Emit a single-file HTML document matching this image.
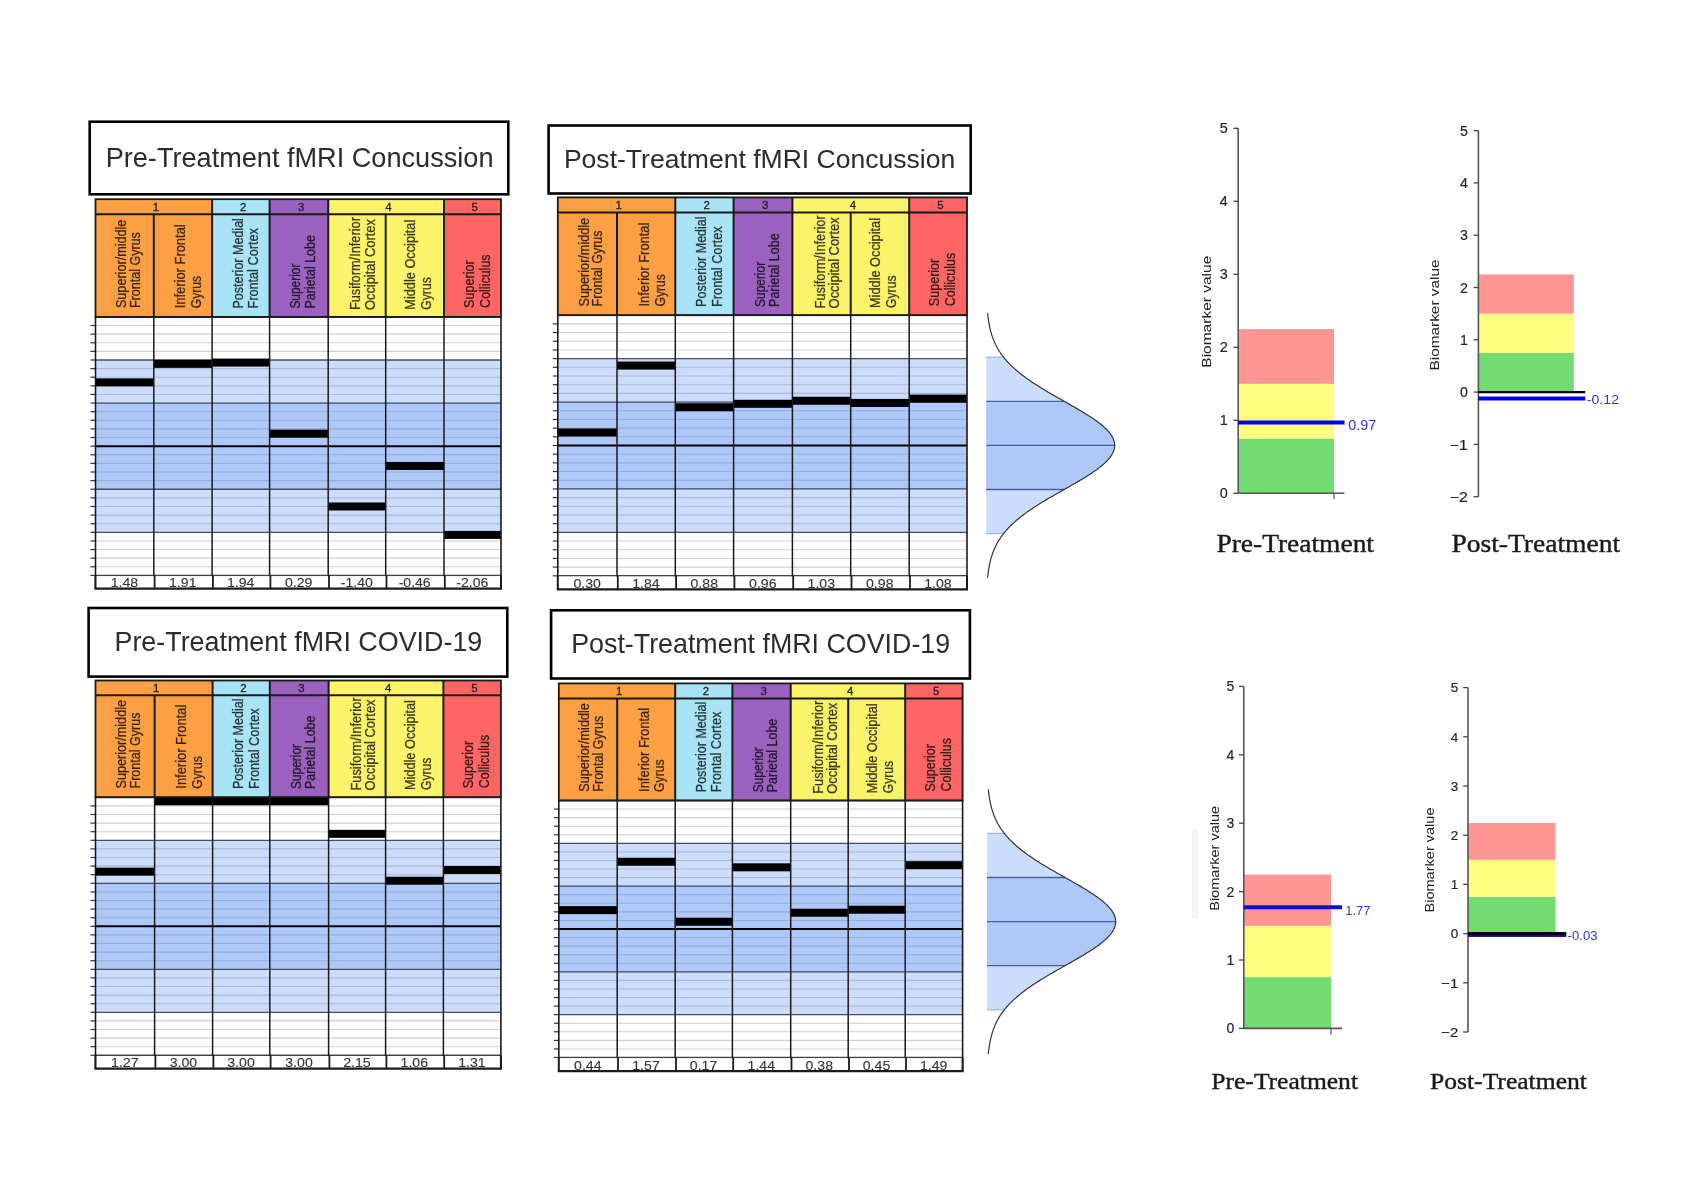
<!DOCTYPE html>
<html><head><meta charset="utf-8"><title>fMRI biomarker figure</title>
<style>
html,body{margin:0;padding:0;background:#fff;}
body{width:1699px;height:1200px;overflow:hidden;font-family:"Liberation Sans",sans-serif;}
svg{display:block;will-change:transform;}
</style></head>
<body>
<svg width="1699" height="1200" viewBox="0 0 1699 1200">
<rect x="0" y="0" width="1699" height="1200" fill="#fff"/>
<rect x="89.70" y="121.70" width="418.60" height="72.60" fill="#fff" stroke="#000" stroke-width="2.6"/>
<text x="105.65" y="166.90" font-family='"Liberation Sans", sans-serif' font-size="27.9" fill="#2c2c2c" textLength="387.85" lengthAdjust="spacingAndGlyphs">Pre-Treatment fMRI Concussion</text>
<rect x="95.50" y="199.20" width="116.60" height="117.70" fill="#fda043"/>
<rect x="212.10" y="199.20" width="57.50" height="117.70" fill="#a9e4f6"/>
<rect x="269.60" y="199.20" width="58.60" height="117.70" fill="#9b61be"/>
<rect x="328.20" y="199.20" width="115.80" height="117.70" fill="#fbf46b"/>
<rect x="444.00" y="199.20" width="57.00" height="117.70" fill="#fe6565"/>
<rect x="95.50" y="316.90" width="405.50" height="43.38" fill="#ffffff"/>
<rect x="95.50" y="359.98" width="405.50" height="43.38" fill="#ccddfc"/>
<rect x="95.50" y="403.07" width="405.50" height="43.38" fill="#aec8fa"/>
<rect x="95.50" y="446.15" width="405.50" height="43.38" fill="#aec8fa"/>
<rect x="95.50" y="489.23" width="405.50" height="43.38" fill="#ccddfc"/>
<rect x="95.50" y="532.32" width="405.50" height="43.38" fill="#ffffff"/>
<line x1="95.50" x2="501.00" y1="325.52" y2="325.52" stroke="#7a7f8a" stroke-opacity="0.38" stroke-width="1.1"/>
<line x1="95.50" x2="501.00" y1="334.13" y2="334.13" stroke="#7a7f8a" stroke-opacity="0.38" stroke-width="1.1"/>
<line x1="95.50" x2="501.00" y1="342.75" y2="342.75" stroke="#7a7f8a" stroke-opacity="0.38" stroke-width="1.1"/>
<line x1="95.50" x2="501.00" y1="351.37" y2="351.37" stroke="#7a7f8a" stroke-opacity="0.38" stroke-width="1.1"/>
<line x1="95.50" x2="501.00" y1="368.60" y2="368.60" stroke="#7a7f8a" stroke-opacity="0.38" stroke-width="1.1"/>
<line x1="95.50" x2="501.00" y1="377.22" y2="377.22" stroke="#7a7f8a" stroke-opacity="0.38" stroke-width="1.1"/>
<line x1="95.50" x2="501.00" y1="385.83" y2="385.83" stroke="#7a7f8a" stroke-opacity="0.38" stroke-width="1.1"/>
<line x1="95.50" x2="501.00" y1="394.45" y2="394.45" stroke="#7a7f8a" stroke-opacity="0.38" stroke-width="1.1"/>
<line x1="95.50" x2="501.00" y1="411.68" y2="411.68" stroke="#7a7f8a" stroke-opacity="0.38" stroke-width="1.1"/>
<line x1="95.50" x2="501.00" y1="420.30" y2="420.30" stroke="#7a7f8a" stroke-opacity="0.38" stroke-width="1.1"/>
<line x1="95.50" x2="501.00" y1="428.92" y2="428.92" stroke="#7a7f8a" stroke-opacity="0.38" stroke-width="1.1"/>
<line x1="95.50" x2="501.00" y1="437.53" y2="437.53" stroke="#7a7f8a" stroke-opacity="0.38" stroke-width="1.1"/>
<line x1="95.50" x2="501.00" y1="454.77" y2="454.77" stroke="#7a7f8a" stroke-opacity="0.38" stroke-width="1.1"/>
<line x1="95.50" x2="501.00" y1="463.38" y2="463.38" stroke="#7a7f8a" stroke-opacity="0.38" stroke-width="1.1"/>
<line x1="95.50" x2="501.00" y1="472.00" y2="472.00" stroke="#7a7f8a" stroke-opacity="0.38" stroke-width="1.1"/>
<line x1="95.50" x2="501.00" y1="480.62" y2="480.62" stroke="#7a7f8a" stroke-opacity="0.38" stroke-width="1.1"/>
<line x1="95.50" x2="501.00" y1="497.85" y2="497.85" stroke="#7a7f8a" stroke-opacity="0.38" stroke-width="1.1"/>
<line x1="95.50" x2="501.00" y1="506.47" y2="506.47" stroke="#7a7f8a" stroke-opacity="0.38" stroke-width="1.1"/>
<line x1="95.50" x2="501.00" y1="515.08" y2="515.08" stroke="#7a7f8a" stroke-opacity="0.38" stroke-width="1.1"/>
<line x1="95.50" x2="501.00" y1="523.70" y2="523.70" stroke="#7a7f8a" stroke-opacity="0.38" stroke-width="1.1"/>
<line x1="95.50" x2="501.00" y1="540.93" y2="540.93" stroke="#7a7f8a" stroke-opacity="0.38" stroke-width="1.1"/>
<line x1="95.50" x2="501.00" y1="549.55" y2="549.55" stroke="#7a7f8a" stroke-opacity="0.38" stroke-width="1.1"/>
<line x1="95.50" x2="501.00" y1="558.17" y2="558.17" stroke="#7a7f8a" stroke-opacity="0.38" stroke-width="1.1"/>
<line x1="95.50" x2="501.00" y1="566.78" y2="566.78" stroke="#7a7f8a" stroke-opacity="0.38" stroke-width="1.1"/>
<line x1="95.50" x2="501.00" y1="359.98" y2="359.98" stroke="#2b3245" stroke-opacity="0.85" stroke-width="1.3"/>
<line x1="95.50" x2="501.00" y1="403.07" y2="403.07" stroke="#2b3245" stroke-opacity="0.85" stroke-width="1.3"/>
<line x1="95.50" x2="501.00" y1="489.23" y2="489.23" stroke="#2b3245" stroke-opacity="0.85" stroke-width="1.3"/>
<line x1="95.50" x2="501.00" y1="532.32" y2="532.32" stroke="#2b3245" stroke-opacity="0.85" stroke-width="1.3"/>
<line x1="95.50" x2="501.00" y1="446.15" y2="446.15" stroke="#000" stroke-width="2"/>
<line x1="95.50" x2="501.00" y1="575.40" y2="575.40" stroke="#444" stroke-width="1.5"/>
<line x1="90.50" x2="95.50" y1="325.52" y2="325.52" stroke="#333" stroke-width="1.2"/>
<line x1="90.50" x2="95.50" y1="334.13" y2="334.13" stroke="#333" stroke-width="1.2"/>
<line x1="90.50" x2="95.50" y1="342.75" y2="342.75" stroke="#333" stroke-width="1.2"/>
<line x1="90.50" x2="95.50" y1="351.37" y2="351.37" stroke="#333" stroke-width="1.2"/>
<line x1="90.50" x2="95.50" y1="359.98" y2="359.98" stroke="#333" stroke-width="1.2"/>
<line x1="90.50" x2="95.50" y1="368.60" y2="368.60" stroke="#333" stroke-width="1.2"/>
<line x1="90.50" x2="95.50" y1="377.22" y2="377.22" stroke="#333" stroke-width="1.2"/>
<line x1="90.50" x2="95.50" y1="385.83" y2="385.83" stroke="#333" stroke-width="1.2"/>
<line x1="90.50" x2="95.50" y1="394.45" y2="394.45" stroke="#333" stroke-width="1.2"/>
<line x1="90.50" x2="95.50" y1="403.07" y2="403.07" stroke="#333" stroke-width="1.2"/>
<line x1="90.50" x2="95.50" y1="411.68" y2="411.68" stroke="#333" stroke-width="1.2"/>
<line x1="90.50" x2="95.50" y1="420.30" y2="420.30" stroke="#333" stroke-width="1.2"/>
<line x1="90.50" x2="95.50" y1="428.92" y2="428.92" stroke="#333" stroke-width="1.2"/>
<line x1="90.50" x2="95.50" y1="437.53" y2="437.53" stroke="#333" stroke-width="1.2"/>
<line x1="90.50" x2="95.50" y1="446.15" y2="446.15" stroke="#333" stroke-width="1.2"/>
<line x1="90.50" x2="95.50" y1="454.77" y2="454.77" stroke="#333" stroke-width="1.2"/>
<line x1="90.50" x2="95.50" y1="463.38" y2="463.38" stroke="#333" stroke-width="1.2"/>
<line x1="90.50" x2="95.50" y1="472.00" y2="472.00" stroke="#333" stroke-width="1.2"/>
<line x1="90.50" x2="95.50" y1="480.62" y2="480.62" stroke="#333" stroke-width="1.2"/>
<line x1="90.50" x2="95.50" y1="489.23" y2="489.23" stroke="#333" stroke-width="1.2"/>
<line x1="90.50" x2="95.50" y1="497.85" y2="497.85" stroke="#333" stroke-width="1.2"/>
<line x1="90.50" x2="95.50" y1="506.47" y2="506.47" stroke="#333" stroke-width="1.2"/>
<line x1="90.50" x2="95.50" y1="515.08" y2="515.08" stroke="#333" stroke-width="1.2"/>
<line x1="90.50" x2="95.50" y1="523.70" y2="523.70" stroke="#333" stroke-width="1.2"/>
<line x1="90.50" x2="95.50" y1="532.32" y2="532.32" stroke="#333" stroke-width="1.2"/>
<line x1="90.50" x2="95.50" y1="540.93" y2="540.93" stroke="#333" stroke-width="1.2"/>
<line x1="90.50" x2="95.50" y1="549.55" y2="549.55" stroke="#333" stroke-width="1.2"/>
<line x1="90.50" x2="95.50" y1="558.17" y2="558.17" stroke="#333" stroke-width="1.2"/>
<line x1="90.50" x2="95.50" y1="566.78" y2="566.78" stroke="#333" stroke-width="1.2"/>
<line x1="90.50" x2="95.50" y1="575.40" y2="575.40" stroke="#333" stroke-width="1.2"/>
<rect x="95.50" y="378.39" width="58.30" height="8.00" fill="#000"/>
<rect x="153.80" y="359.86" width="58.30" height="8.00" fill="#000"/>
<rect x="212.10" y="358.57" width="57.50" height="8.00" fill="#000"/>
<rect x="269.60" y="429.66" width="58.60" height="8.00" fill="#000"/>
<rect x="328.20" y="502.47" width="57.50" height="8.00" fill="#000"/>
<rect x="385.70" y="461.97" width="58.30" height="8.00" fill="#000"/>
<rect x="444.00" y="530.90" width="57.00" height="8.00" fill="#000"/>
<line x1="153.80" x2="153.80" y1="316.90" y2="588.60" stroke="#1a1a1a" stroke-width="1.5"/>
<line x1="212.10" x2="212.10" y1="316.90" y2="588.60" stroke="#1a1a1a" stroke-width="1.5"/>
<line x1="269.60" x2="269.60" y1="316.90" y2="588.60" stroke="#1a1a1a" stroke-width="1.5"/>
<line x1="328.20" x2="328.20" y1="316.90" y2="588.60" stroke="#1a1a1a" stroke-width="1.5"/>
<line x1="385.70" x2="385.70" y1="316.90" y2="588.60" stroke="#1a1a1a" stroke-width="1.5"/>
<line x1="444.00" x2="444.00" y1="316.90" y2="588.60" stroke="#1a1a1a" stroke-width="1.5"/>
<line x1="95.50" x2="501.00" y1="214.30" y2="214.30" stroke="#1a1a1a" stroke-width="2"/>
<line x1="95.50" x2="501.00" y1="316.90" y2="316.90" stroke="#1a1a1a" stroke-width="1.6"/>
<line x1="153.80" x2="153.80" y1="214.30" y2="316.90" stroke="#1a1a1a" stroke-width="2"/>
<line x1="385.70" x2="385.70" y1="214.30" y2="316.90" stroke="#1a1a1a" stroke-width="2"/>
<line x1="212.10" x2="212.10" y1="199.20" y2="316.90" stroke="#1a1a1a" stroke-width="2"/>
<line x1="269.60" x2="269.60" y1="199.20" y2="316.90" stroke="#1a1a1a" stroke-width="2"/>
<line x1="328.20" x2="328.20" y1="199.20" y2="316.90" stroke="#1a1a1a" stroke-width="2"/>
<line x1="444.00" x2="444.00" y1="199.20" y2="316.90" stroke="#1a1a1a" stroke-width="2"/>
<rect x="95.50" y="199.20" width="405.50" height="117.70" fill="none" stroke="#1a1a1a" stroke-width="1.8"/>
<line x1="95.50" x2="95.50" y1="316.90" y2="588.60" stroke="#1a1a1a" stroke-width="1.6"/>
<line x1="501.00" x2="501.00" y1="316.90" y2="588.60" stroke="#1a1a1a" stroke-width="1.6"/>
<rect x="95.50" y="576.20" width="405.50" height="12.40" fill="#fff"/>
<line x1="154.60" x2="154.60" y1="575.40" y2="588.60" stroke="#1a1a1a" stroke-width="1.8"/>
<line x1="212.90" x2="212.90" y1="575.40" y2="588.60" stroke="#1a1a1a" stroke-width="1.8"/>
<line x1="270.40" x2="270.40" y1="575.40" y2="588.60" stroke="#1a1a1a" stroke-width="1.8"/>
<line x1="329.00" x2="329.00" y1="575.40" y2="588.60" stroke="#1a1a1a" stroke-width="1.8"/>
<line x1="386.50" x2="386.50" y1="575.40" y2="588.60" stroke="#1a1a1a" stroke-width="1.8"/>
<line x1="444.80" x2="444.80" y1="575.40" y2="588.60" stroke="#1a1a1a" stroke-width="1.8"/>
<line x1="95.50" x2="95.50" y1="575.40" y2="588.60" stroke="#1a1a1a" stroke-width="2"/>
<line x1="501.00" x2="501.00" y1="575.40" y2="588.60" stroke="#1a1a1a" stroke-width="2"/>
<text x="110.70" y="587.00" font-family='"Liberation Sans", sans-serif' font-size="12.2" fill="#333" stroke="#333" stroke-width="0.1" textLength="27.50" lengthAdjust="spacingAndGlyphs">1.48</text>
<text x="169.00" y="587.00" font-family='"Liberation Sans", sans-serif' font-size="12.2" fill="#333" stroke="#333" stroke-width="0.1" textLength="27.50" lengthAdjust="spacingAndGlyphs">1.91</text>
<text x="226.90" y="587.00" font-family='"Liberation Sans", sans-serif' font-size="12.2" fill="#333" stroke="#333" stroke-width="0.1" textLength="27.50" lengthAdjust="spacingAndGlyphs">1.94</text>
<text x="284.95" y="587.00" font-family='"Liberation Sans", sans-serif' font-size="12.2" fill="#333" stroke="#333" stroke-width="0.1" textLength="27.50" lengthAdjust="spacingAndGlyphs">0.29</text>
<text x="340.80" y="587.00" font-family='"Liberation Sans", sans-serif' font-size="12.2" fill="#333" stroke="#333" stroke-width="0.1" textLength="31.90" lengthAdjust="spacingAndGlyphs">-1.40</text>
<text x="398.70" y="587.00" font-family='"Liberation Sans", sans-serif' font-size="12.2" fill="#333" stroke="#333" stroke-width="0.1" textLength="31.90" lengthAdjust="spacingAndGlyphs">-0.46</text>
<text x="456.35" y="587.00" font-family='"Liberation Sans", sans-serif' font-size="12.2" fill="#333" stroke="#333" stroke-width="0.1" textLength="31.90" lengthAdjust="spacingAndGlyphs">-2.06</text>
<line x1="94.50" x2="502.00" y1="588.60" y2="588.60" stroke="#1a1a1a" stroke-width="2.2"/>
<text x="156.00" y="210.70" font-family='"Liberation Sans", sans-serif' font-size="11.4" fill="#222" stroke="#222" stroke-width="0.3" text-anchor="middle">1</text>
<text x="243.05" y="210.70" font-family='"Liberation Sans", sans-serif' font-size="11.4" fill="#222" stroke="#222" stroke-width="0.3" text-anchor="middle">2</text>
<text x="301.10" y="210.70" font-family='"Liberation Sans", sans-serif' font-size="11.4" fill="#222" stroke="#222" stroke-width="0.3" text-anchor="middle">3</text>
<text x="388.30" y="210.70" font-family='"Liberation Sans", sans-serif' font-size="11.4" fill="#222" stroke="#222" stroke-width="0.3" text-anchor="middle">4</text>
<text x="474.70" y="210.70" font-family='"Liberation Sans", sans-serif' font-size="11.4" fill="#222" stroke="#222" stroke-width="0.3" text-anchor="middle">5</text>
<text transform="translate(126.06,308.10) rotate(-90)" x="0" y="0" font-family='"Liberation Sans", sans-serif' font-size="14.0" fill="#000" fill-opacity="0.74" stroke="#000" stroke-opacity="0.6" stroke-width="0.35" textLength="88.50" lengthAdjust="spacingAndGlyphs">Superior/middle</text>
<text transform="translate(139.65,308.10) rotate(-90)" x="0" y="0" font-family='"Liberation Sans", sans-serif' font-size="14.0" fill="#000" fill-opacity="0.74" stroke="#000" stroke-opacity="0.6" stroke-width="0.35" textLength="76.00" lengthAdjust="spacingAndGlyphs">Frontal Gyrus</text>
<text transform="translate(185.36,308.30) rotate(-90)" x="0" y="0" font-family='"Liberation Sans", sans-serif' font-size="14.0" fill="#000" fill-opacity="0.74" stroke="#000" stroke-opacity="0.6" stroke-width="0.35" textLength="84.00" lengthAdjust="spacingAndGlyphs">Inferior Frontal</text>
<text transform="translate(201.14,308.30) rotate(-90)" x="0" y="0" font-family='"Liberation Sans", sans-serif' font-size="14.0" fill="#000" fill-opacity="0.74" stroke="#000" stroke-opacity="0.6" stroke-width="0.35" textLength="32.50" lengthAdjust="spacingAndGlyphs">Gyrus</text>
<text transform="translate(242.76,308.60) rotate(-90)" x="0" y="0" font-family='"Liberation Sans", sans-serif' font-size="14.0" fill="#000" fill-opacity="0.74" stroke="#000" stroke-opacity="0.6" stroke-width="0.35" textLength="90.50" lengthAdjust="spacingAndGlyphs">Posterior Medial</text>
<text transform="translate(258.44,308.60) rotate(-90)" x="0" y="0" font-family='"Liberation Sans", sans-serif' font-size="14.0" fill="#000" fill-opacity="0.74" stroke="#000" stroke-opacity="0.6" stroke-width="0.35" textLength="80.50" lengthAdjust="spacingAndGlyphs">Frontal Cortex</text>
<text transform="translate(300.36,308.60) rotate(-90)" x="0" y="0" font-family='"Liberation Sans", sans-serif' font-size="14.0" fill="#000" fill-opacity="0.74" stroke="#000" stroke-opacity="0.6" stroke-width="0.35" textLength="45.00" lengthAdjust="spacingAndGlyphs">Superior</text>
<text transform="translate(314.74,308.60) rotate(-90)" x="0" y="0" font-family='"Liberation Sans", sans-serif' font-size="14.0" fill="#000" fill-opacity="0.74" stroke="#000" stroke-opacity="0.6" stroke-width="0.35" textLength="73.50" lengthAdjust="spacingAndGlyphs">Parietal Lobe</text>
<text transform="translate(360.16,310.10) rotate(-90)" x="0" y="0" font-family='"Liberation Sans", sans-serif' font-size="14.0" fill="#000" fill-opacity="0.74" stroke="#000" stroke-opacity="0.6" stroke-width="0.35" textLength="93.00" lengthAdjust="spacingAndGlyphs">Fusiform/Inferior</text>
<text transform="translate(374.64,310.10) rotate(-90)" x="0" y="0" font-family='"Liberation Sans", sans-serif' font-size="14.0" fill="#000" fill-opacity="0.74" stroke="#000" stroke-opacity="0.6" stroke-width="0.35" textLength="91.00" lengthAdjust="spacingAndGlyphs">Occipital Cortex</text>
<text transform="translate(414.86,309.70) rotate(-90)" x="0" y="0" font-family='"Liberation Sans", sans-serif' font-size="14.0" fill="#000" fill-opacity="0.74" stroke="#000" stroke-opacity="0.6" stroke-width="0.35" textLength="90.00" lengthAdjust="spacingAndGlyphs">Middle Occipital</text>
<text transform="translate(431.04,309.70) rotate(-90)" x="0" y="0" font-family='"Liberation Sans", sans-serif' font-size="14.0" fill="#000" fill-opacity="0.74" stroke="#000" stroke-opacity="0.6" stroke-width="0.35" textLength="32.50" lengthAdjust="spacingAndGlyphs">Gyrus</text>
<text transform="translate(473.76,307.90) rotate(-90)" x="0" y="0" font-family='"Liberation Sans", sans-serif' font-size="14.0" fill="#000" fill-opacity="0.74" stroke="#000" stroke-opacity="0.6" stroke-width="0.35" textLength="47.50" lengthAdjust="spacingAndGlyphs">Superior</text>
<text transform="translate(489.54,307.90) rotate(-90)" x="0" y="0" font-family='"Liberation Sans", sans-serif' font-size="14.0" fill="#000" fill-opacity="0.74" stroke="#000" stroke-opacity="0.6" stroke-width="0.35" textLength="53.50" lengthAdjust="spacingAndGlyphs">Colliculus</text>
<rect x="548.60" y="125.50" width="422.10" height="68.00" fill="#fff" stroke="#000" stroke-width="2.6"/>
<text x="563.90" y="168.00" font-family='"Liberation Sans", sans-serif' font-size="26.2" fill="#2c2c2c" textLength="391.40" lengthAdjust="spacingAndGlyphs">Post-Treatment fMRI Concussion</text>
<rect x="557.80" y="197.40" width="117.50" height="117.80" fill="#fda043"/>
<rect x="675.30" y="197.40" width="58.30" height="117.80" fill="#a9e4f6"/>
<rect x="733.60" y="197.40" width="58.80" height="117.80" fill="#9b61be"/>
<rect x="792.40" y="197.40" width="116.80" height="117.80" fill="#fbf46b"/>
<rect x="909.20" y="197.40" width="57.80" height="117.80" fill="#fe6565"/>
<rect x="557.80" y="315.20" width="409.20" height="43.73" fill="#ffffff"/>
<rect x="557.80" y="358.63" width="409.20" height="43.73" fill="#ccddfc"/>
<rect x="557.80" y="402.07" width="409.20" height="43.73" fill="#aec8fa"/>
<rect x="557.80" y="445.50" width="409.20" height="43.73" fill="#aec8fa"/>
<rect x="557.80" y="488.93" width="409.20" height="43.73" fill="#ccddfc"/>
<rect x="557.80" y="532.37" width="409.20" height="43.73" fill="#ffffff"/>
<line x1="557.80" x2="967.00" y1="323.89" y2="323.89" stroke="#7a7f8a" stroke-opacity="0.38" stroke-width="1.1"/>
<line x1="557.80" x2="967.00" y1="332.57" y2="332.57" stroke="#7a7f8a" stroke-opacity="0.38" stroke-width="1.1"/>
<line x1="557.80" x2="967.00" y1="341.26" y2="341.26" stroke="#7a7f8a" stroke-opacity="0.38" stroke-width="1.1"/>
<line x1="557.80" x2="967.00" y1="349.95" y2="349.95" stroke="#7a7f8a" stroke-opacity="0.38" stroke-width="1.1"/>
<line x1="557.80" x2="967.00" y1="367.32" y2="367.32" stroke="#7a7f8a" stroke-opacity="0.38" stroke-width="1.1"/>
<line x1="557.80" x2="967.00" y1="376.01" y2="376.01" stroke="#7a7f8a" stroke-opacity="0.38" stroke-width="1.1"/>
<line x1="557.80" x2="967.00" y1="384.69" y2="384.69" stroke="#7a7f8a" stroke-opacity="0.38" stroke-width="1.1"/>
<line x1="557.80" x2="967.00" y1="393.38" y2="393.38" stroke="#7a7f8a" stroke-opacity="0.38" stroke-width="1.1"/>
<line x1="557.80" x2="967.00" y1="410.75" y2="410.75" stroke="#7a7f8a" stroke-opacity="0.38" stroke-width="1.1"/>
<line x1="557.80" x2="967.00" y1="419.44" y2="419.44" stroke="#7a7f8a" stroke-opacity="0.38" stroke-width="1.1"/>
<line x1="557.80" x2="967.00" y1="428.13" y2="428.13" stroke="#7a7f8a" stroke-opacity="0.38" stroke-width="1.1"/>
<line x1="557.80" x2="967.00" y1="436.81" y2="436.81" stroke="#7a7f8a" stroke-opacity="0.38" stroke-width="1.1"/>
<line x1="557.80" x2="967.00" y1="454.19" y2="454.19" stroke="#7a7f8a" stroke-opacity="0.38" stroke-width="1.1"/>
<line x1="557.80" x2="967.00" y1="462.87" y2="462.87" stroke="#7a7f8a" stroke-opacity="0.38" stroke-width="1.1"/>
<line x1="557.80" x2="967.00" y1="471.56" y2="471.56" stroke="#7a7f8a" stroke-opacity="0.38" stroke-width="1.1"/>
<line x1="557.80" x2="967.00" y1="480.25" y2="480.25" stroke="#7a7f8a" stroke-opacity="0.38" stroke-width="1.1"/>
<line x1="557.80" x2="967.00" y1="497.62" y2="497.62" stroke="#7a7f8a" stroke-opacity="0.38" stroke-width="1.1"/>
<line x1="557.80" x2="967.00" y1="506.31" y2="506.31" stroke="#7a7f8a" stroke-opacity="0.38" stroke-width="1.1"/>
<line x1="557.80" x2="967.00" y1="514.99" y2="514.99" stroke="#7a7f8a" stroke-opacity="0.38" stroke-width="1.1"/>
<line x1="557.80" x2="967.00" y1="523.68" y2="523.68" stroke="#7a7f8a" stroke-opacity="0.38" stroke-width="1.1"/>
<line x1="557.80" x2="967.00" y1="541.05" y2="541.05" stroke="#7a7f8a" stroke-opacity="0.38" stroke-width="1.1"/>
<line x1="557.80" x2="967.00" y1="549.74" y2="549.74" stroke="#7a7f8a" stroke-opacity="0.38" stroke-width="1.1"/>
<line x1="557.80" x2="967.00" y1="558.43" y2="558.43" stroke="#7a7f8a" stroke-opacity="0.38" stroke-width="1.1"/>
<line x1="557.80" x2="967.00" y1="567.11" y2="567.11" stroke="#7a7f8a" stroke-opacity="0.38" stroke-width="1.1"/>
<line x1="557.80" x2="967.00" y1="358.63" y2="358.63" stroke="#2b3245" stroke-opacity="0.85" stroke-width="1.3"/>
<line x1="557.80" x2="967.00" y1="402.07" y2="402.07" stroke="#2b3245" stroke-opacity="0.85" stroke-width="1.3"/>
<line x1="557.80" x2="967.00" y1="488.93" y2="488.93" stroke="#2b3245" stroke-opacity="0.85" stroke-width="1.3"/>
<line x1="557.80" x2="967.00" y1="532.37" y2="532.37" stroke="#2b3245" stroke-opacity="0.85" stroke-width="1.3"/>
<line x1="557.80" x2="967.00" y1="445.50" y2="445.50" stroke="#000" stroke-width="2"/>
<line x1="557.80" x2="967.00" y1="575.80" y2="575.80" stroke="#444" stroke-width="1.5"/>
<line x1="552.80" x2="557.80" y1="323.89" y2="323.89" stroke="#333" stroke-width="1.2"/>
<line x1="552.80" x2="557.80" y1="332.57" y2="332.57" stroke="#333" stroke-width="1.2"/>
<line x1="552.80" x2="557.80" y1="341.26" y2="341.26" stroke="#333" stroke-width="1.2"/>
<line x1="552.80" x2="557.80" y1="349.95" y2="349.95" stroke="#333" stroke-width="1.2"/>
<line x1="552.80" x2="557.80" y1="358.63" y2="358.63" stroke="#333" stroke-width="1.2"/>
<line x1="552.80" x2="557.80" y1="367.32" y2="367.32" stroke="#333" stroke-width="1.2"/>
<line x1="552.80" x2="557.80" y1="376.01" y2="376.01" stroke="#333" stroke-width="1.2"/>
<line x1="552.80" x2="557.80" y1="384.69" y2="384.69" stroke="#333" stroke-width="1.2"/>
<line x1="552.80" x2="557.80" y1="393.38" y2="393.38" stroke="#333" stroke-width="1.2"/>
<line x1="552.80" x2="557.80" y1="402.07" y2="402.07" stroke="#333" stroke-width="1.2"/>
<line x1="552.80" x2="557.80" y1="410.75" y2="410.75" stroke="#333" stroke-width="1.2"/>
<line x1="552.80" x2="557.80" y1="419.44" y2="419.44" stroke="#333" stroke-width="1.2"/>
<line x1="552.80" x2="557.80" y1="428.13" y2="428.13" stroke="#333" stroke-width="1.2"/>
<line x1="552.80" x2="557.80" y1="436.81" y2="436.81" stroke="#333" stroke-width="1.2"/>
<line x1="552.80" x2="557.80" y1="445.50" y2="445.50" stroke="#333" stroke-width="1.2"/>
<line x1="552.80" x2="557.80" y1="454.19" y2="454.19" stroke="#333" stroke-width="1.2"/>
<line x1="552.80" x2="557.80" y1="462.87" y2="462.87" stroke="#333" stroke-width="1.2"/>
<line x1="552.80" x2="557.80" y1="471.56" y2="471.56" stroke="#333" stroke-width="1.2"/>
<line x1="552.80" x2="557.80" y1="480.25" y2="480.25" stroke="#333" stroke-width="1.2"/>
<line x1="552.80" x2="557.80" y1="488.93" y2="488.93" stroke="#333" stroke-width="1.2"/>
<line x1="552.80" x2="557.80" y1="497.62" y2="497.62" stroke="#333" stroke-width="1.2"/>
<line x1="552.80" x2="557.80" y1="506.31" y2="506.31" stroke="#333" stroke-width="1.2"/>
<line x1="552.80" x2="557.80" y1="514.99" y2="514.99" stroke="#333" stroke-width="1.2"/>
<line x1="552.80" x2="557.80" y1="523.68" y2="523.68" stroke="#333" stroke-width="1.2"/>
<line x1="552.80" x2="557.80" y1="532.37" y2="532.37" stroke="#333" stroke-width="1.2"/>
<line x1="552.80" x2="557.80" y1="541.05" y2="541.05" stroke="#333" stroke-width="1.2"/>
<line x1="552.80" x2="557.80" y1="549.74" y2="549.74" stroke="#333" stroke-width="1.2"/>
<line x1="552.80" x2="557.80" y1="558.43" y2="558.43" stroke="#333" stroke-width="1.2"/>
<line x1="552.80" x2="557.80" y1="567.11" y2="567.11" stroke="#333" stroke-width="1.2"/>
<line x1="552.80" x2="557.80" y1="575.80" y2="575.80" stroke="#333" stroke-width="1.2"/>
<rect x="557.80" y="428.47" width="59.20" height="8.00" fill="#000"/>
<rect x="617.00" y="361.58" width="58.30" height="8.00" fill="#000"/>
<rect x="675.30" y="403.28" width="58.30" height="8.00" fill="#000"/>
<rect x="733.60" y="399.80" width="58.80" height="8.00" fill="#000"/>
<rect x="792.40" y="396.76" width="58.30" height="8.00" fill="#000"/>
<rect x="850.70" y="398.94" width="58.50" height="8.00" fill="#000"/>
<rect x="909.20" y="394.59" width="57.80" height="8.00" fill="#000"/>
<line x1="617.00" x2="617.00" y1="315.20" y2="589.40" stroke="#1a1a1a" stroke-width="1.5"/>
<line x1="675.30" x2="675.30" y1="315.20" y2="589.40" stroke="#1a1a1a" stroke-width="1.5"/>
<line x1="733.60" x2="733.60" y1="315.20" y2="589.40" stroke="#1a1a1a" stroke-width="1.5"/>
<line x1="792.40" x2="792.40" y1="315.20" y2="589.40" stroke="#1a1a1a" stroke-width="1.5"/>
<line x1="850.70" x2="850.70" y1="315.20" y2="589.40" stroke="#1a1a1a" stroke-width="1.5"/>
<line x1="909.20" x2="909.20" y1="315.20" y2="589.40" stroke="#1a1a1a" stroke-width="1.5"/>
<line x1="557.80" x2="967.00" y1="212.60" y2="212.60" stroke="#1a1a1a" stroke-width="2"/>
<line x1="557.80" x2="967.00" y1="315.20" y2="315.20" stroke="#1a1a1a" stroke-width="1.6"/>
<line x1="617.00" x2="617.00" y1="212.60" y2="315.20" stroke="#1a1a1a" stroke-width="2"/>
<line x1="850.70" x2="850.70" y1="212.60" y2="315.20" stroke="#1a1a1a" stroke-width="2"/>
<line x1="675.30" x2="675.30" y1="197.40" y2="315.20" stroke="#1a1a1a" stroke-width="2"/>
<line x1="733.60" x2="733.60" y1="197.40" y2="315.20" stroke="#1a1a1a" stroke-width="2"/>
<line x1="792.40" x2="792.40" y1="197.40" y2="315.20" stroke="#1a1a1a" stroke-width="2"/>
<line x1="909.20" x2="909.20" y1="197.40" y2="315.20" stroke="#1a1a1a" stroke-width="2"/>
<rect x="557.80" y="197.40" width="409.20" height="117.80" fill="none" stroke="#1a1a1a" stroke-width="1.8"/>
<line x1="557.80" x2="557.80" y1="315.20" y2="589.40" stroke="#1a1a1a" stroke-width="1.6"/>
<line x1="967.00" x2="967.00" y1="315.20" y2="589.40" stroke="#1a1a1a" stroke-width="1.6"/>
<rect x="557.80" y="576.60" width="409.20" height="12.80" fill="#fff"/>
<line x1="617.80" x2="617.80" y1="575.80" y2="589.40" stroke="#1a1a1a" stroke-width="1.8"/>
<line x1="676.10" x2="676.10" y1="575.80" y2="589.40" stroke="#1a1a1a" stroke-width="1.8"/>
<line x1="734.40" x2="734.40" y1="575.80" y2="589.40" stroke="#1a1a1a" stroke-width="1.8"/>
<line x1="793.20" x2="793.20" y1="575.80" y2="589.40" stroke="#1a1a1a" stroke-width="1.8"/>
<line x1="851.50" x2="851.50" y1="575.80" y2="589.40" stroke="#1a1a1a" stroke-width="1.8"/>
<line x1="910.00" x2="910.00" y1="575.80" y2="589.40" stroke="#1a1a1a" stroke-width="1.8"/>
<line x1="557.80" x2="557.80" y1="575.80" y2="589.40" stroke="#1a1a1a" stroke-width="2"/>
<line x1="967.00" x2="967.00" y1="575.80" y2="589.40" stroke="#1a1a1a" stroke-width="2"/>
<text x="573.45" y="588.00" font-family='"Liberation Sans", sans-serif' font-size="12.2" fill="#333" stroke="#333" stroke-width="0.1" textLength="27.50" lengthAdjust="spacingAndGlyphs">0.30</text>
<text x="632.20" y="588.00" font-family='"Liberation Sans", sans-serif' font-size="12.2" fill="#333" stroke="#333" stroke-width="0.1" textLength="27.50" lengthAdjust="spacingAndGlyphs">1.84</text>
<text x="690.50" y="588.00" font-family='"Liberation Sans", sans-serif' font-size="12.2" fill="#333" stroke="#333" stroke-width="0.1" textLength="27.50" lengthAdjust="spacingAndGlyphs">0.88</text>
<text x="749.05" y="588.00" font-family='"Liberation Sans", sans-serif' font-size="12.2" fill="#333" stroke="#333" stroke-width="0.1" textLength="27.50" lengthAdjust="spacingAndGlyphs">0.96</text>
<text x="807.60" y="588.00" font-family='"Liberation Sans", sans-serif' font-size="12.2" fill="#333" stroke="#333" stroke-width="0.1" textLength="27.50" lengthAdjust="spacingAndGlyphs">1.03</text>
<text x="866.00" y="588.00" font-family='"Liberation Sans", sans-serif' font-size="12.2" fill="#333" stroke="#333" stroke-width="0.1" textLength="27.50" lengthAdjust="spacingAndGlyphs">0.98</text>
<text x="924.15" y="588.00" font-family='"Liberation Sans", sans-serif' font-size="12.2" fill="#333" stroke="#333" stroke-width="0.1" textLength="27.50" lengthAdjust="spacingAndGlyphs">1.08</text>
<line x1="556.80" x2="968.00" y1="589.40" y2="589.40" stroke="#1a1a1a" stroke-width="2.2"/>
<text x="618.75" y="209.00" font-family='"Liberation Sans", sans-serif' font-size="11.4" fill="#222" stroke="#222" stroke-width="0.3" text-anchor="middle">1</text>
<text x="706.65" y="209.00" font-family='"Liberation Sans", sans-serif' font-size="11.4" fill="#222" stroke="#222" stroke-width="0.3" text-anchor="middle">2</text>
<text x="765.20" y="209.00" font-family='"Liberation Sans", sans-serif' font-size="11.4" fill="#222" stroke="#222" stroke-width="0.3" text-anchor="middle">3</text>
<text x="853.00" y="209.00" font-family='"Liberation Sans", sans-serif' font-size="11.4" fill="#222" stroke="#222" stroke-width="0.3" text-anchor="middle">4</text>
<text x="940.30" y="209.00" font-family='"Liberation Sans", sans-serif' font-size="11.4" fill="#222" stroke="#222" stroke-width="0.3" text-anchor="middle">5</text>
<text transform="translate(588.64,306.40) rotate(-90)" x="0" y="0" font-family='"Liberation Sans", sans-serif' font-size="14.0" fill="#000" fill-opacity="0.74" stroke="#000" stroke-opacity="0.6" stroke-width="0.35" textLength="88.50" lengthAdjust="spacingAndGlyphs">Superior/middle</text>
<text transform="translate(602.35,306.40) rotate(-90)" x="0" y="0" font-family='"Liberation Sans", sans-serif' font-size="14.0" fill="#000" fill-opacity="0.74" stroke="#000" stroke-opacity="0.6" stroke-width="0.35" textLength="76.00" lengthAdjust="spacingAndGlyphs">Frontal Gyrus</text>
<text transform="translate(648.85,306.60) rotate(-90)" x="0" y="0" font-family='"Liberation Sans", sans-serif' font-size="14.0" fill="#000" fill-opacity="0.74" stroke="#000" stroke-opacity="0.6" stroke-width="0.35" textLength="84.00" lengthAdjust="spacingAndGlyphs">Inferior Frontal</text>
<text transform="translate(664.77,306.60) rotate(-90)" x="0" y="0" font-family='"Liberation Sans", sans-serif' font-size="14.0" fill="#000" fill-opacity="0.74" stroke="#000" stroke-opacity="0.6" stroke-width="0.35" textLength="32.50" lengthAdjust="spacingAndGlyphs">Gyrus</text>
<text transform="translate(706.24,306.90) rotate(-90)" x="0" y="0" font-family='"Liberation Sans", sans-serif' font-size="14.0" fill="#000" fill-opacity="0.74" stroke="#000" stroke-opacity="0.6" stroke-width="0.35" textLength="90.50" lengthAdjust="spacingAndGlyphs">Posterior Medial</text>
<text transform="translate(722.07,306.90) rotate(-90)" x="0" y="0" font-family='"Liberation Sans", sans-serif' font-size="14.0" fill="#000" fill-opacity="0.74" stroke="#000" stroke-opacity="0.6" stroke-width="0.35" textLength="80.50" lengthAdjust="spacingAndGlyphs">Frontal Cortex</text>
<text transform="translate(764.64,306.90) rotate(-90)" x="0" y="0" font-family='"Liberation Sans", sans-serif' font-size="14.0" fill="#000" fill-opacity="0.74" stroke="#000" stroke-opacity="0.6" stroke-width="0.35" textLength="45.00" lengthAdjust="spacingAndGlyphs">Superior</text>
<text transform="translate(779.16,306.90) rotate(-90)" x="0" y="0" font-family='"Liberation Sans", sans-serif' font-size="14.0" fill="#000" fill-opacity="0.74" stroke="#000" stroke-opacity="0.6" stroke-width="0.35" textLength="73.50" lengthAdjust="spacingAndGlyphs">Parietal Lobe</text>
<text transform="translate(824.65,308.40) rotate(-90)" x="0" y="0" font-family='"Liberation Sans", sans-serif' font-size="14.0" fill="#000" fill-opacity="0.74" stroke="#000" stroke-opacity="0.6" stroke-width="0.35" textLength="93.00" lengthAdjust="spacingAndGlyphs">Fusiform/Inferior</text>
<text transform="translate(839.27,308.40) rotate(-90)" x="0" y="0" font-family='"Liberation Sans", sans-serif' font-size="14.0" fill="#000" fill-opacity="0.74" stroke="#000" stroke-opacity="0.6" stroke-width="0.35" textLength="91.00" lengthAdjust="spacingAndGlyphs">Occipital Cortex</text>
<text transform="translate(880.13,308.00) rotate(-90)" x="0" y="0" font-family='"Liberation Sans", sans-serif' font-size="14.0" fill="#000" fill-opacity="0.74" stroke="#000" stroke-opacity="0.6" stroke-width="0.35" textLength="90.00" lengthAdjust="spacingAndGlyphs">Middle Occipital</text>
<text transform="translate(896.46,308.00) rotate(-90)" x="0" y="0" font-family='"Liberation Sans", sans-serif' font-size="14.0" fill="#000" fill-opacity="0.74" stroke="#000" stroke-opacity="0.6" stroke-width="0.35" textLength="32.50" lengthAdjust="spacingAndGlyphs">Gyrus</text>
<text transform="translate(939.23,306.20) rotate(-90)" x="0" y="0" font-family='"Liberation Sans", sans-serif' font-size="14.0" fill="#000" fill-opacity="0.74" stroke="#000" stroke-opacity="0.6" stroke-width="0.35" textLength="47.50" lengthAdjust="spacingAndGlyphs">Superior</text>
<text transform="translate(955.16,306.20) rotate(-90)" x="0" y="0" font-family='"Liberation Sans", sans-serif' font-size="14.0" fill="#000" fill-opacity="0.74" stroke="#000" stroke-opacity="0.6" stroke-width="0.35" textLength="53.50" lengthAdjust="spacingAndGlyphs">Colliculus</text>
<rect x="88.60" y="608.00" width="418.70" height="68.60" fill="#fff" stroke="#000" stroke-width="2.6"/>
<text x="114.50" y="650.60" font-family='"Liberation Sans", sans-serif' font-size="27.7" fill="#2c2c2c" textLength="367.80" lengthAdjust="spacingAndGlyphs">Pre-Treatment fMRI COVID-19</text>
<rect x="95.50" y="680.50" width="117.10" height="116.80" fill="#fda043"/>
<rect x="212.60" y="680.50" width="57.20" height="116.80" fill="#a9e4f6"/>
<rect x="269.80" y="680.50" width="58.80" height="116.80" fill="#9b61be"/>
<rect x="328.60" y="680.50" width="114.80" height="116.80" fill="#fbf46b"/>
<rect x="443.40" y="680.50" width="57.50" height="116.80" fill="#fe6565"/>
<rect x="95.50" y="797.30" width="405.40" height="43.30" fill="#ffffff"/>
<rect x="95.50" y="840.30" width="405.40" height="43.30" fill="#ccddfc"/>
<rect x="95.50" y="883.30" width="405.40" height="43.30" fill="#aec8fa"/>
<rect x="95.50" y="926.30" width="405.40" height="43.30" fill="#aec8fa"/>
<rect x="95.50" y="969.30" width="405.40" height="43.30" fill="#ccddfc"/>
<rect x="95.50" y="1012.30" width="405.40" height="43.30" fill="#ffffff"/>
<line x1="95.50" x2="500.90" y1="805.90" y2="805.90" stroke="#7a7f8a" stroke-opacity="0.38" stroke-width="1.1"/>
<line x1="95.50" x2="500.90" y1="814.50" y2="814.50" stroke="#7a7f8a" stroke-opacity="0.38" stroke-width="1.1"/>
<line x1="95.50" x2="500.90" y1="823.10" y2="823.10" stroke="#7a7f8a" stroke-opacity="0.38" stroke-width="1.1"/>
<line x1="95.50" x2="500.90" y1="831.70" y2="831.70" stroke="#7a7f8a" stroke-opacity="0.38" stroke-width="1.1"/>
<line x1="95.50" x2="500.90" y1="848.90" y2="848.90" stroke="#7a7f8a" stroke-opacity="0.38" stroke-width="1.1"/>
<line x1="95.50" x2="500.90" y1="857.50" y2="857.50" stroke="#7a7f8a" stroke-opacity="0.38" stroke-width="1.1"/>
<line x1="95.50" x2="500.90" y1="866.10" y2="866.10" stroke="#7a7f8a" stroke-opacity="0.38" stroke-width="1.1"/>
<line x1="95.50" x2="500.90" y1="874.70" y2="874.70" stroke="#7a7f8a" stroke-opacity="0.38" stroke-width="1.1"/>
<line x1="95.50" x2="500.90" y1="891.90" y2="891.90" stroke="#7a7f8a" stroke-opacity="0.38" stroke-width="1.1"/>
<line x1="95.50" x2="500.90" y1="900.50" y2="900.50" stroke="#7a7f8a" stroke-opacity="0.38" stroke-width="1.1"/>
<line x1="95.50" x2="500.90" y1="909.10" y2="909.10" stroke="#7a7f8a" stroke-opacity="0.38" stroke-width="1.1"/>
<line x1="95.50" x2="500.90" y1="917.70" y2="917.70" stroke="#7a7f8a" stroke-opacity="0.38" stroke-width="1.1"/>
<line x1="95.50" x2="500.90" y1="934.90" y2="934.90" stroke="#7a7f8a" stroke-opacity="0.38" stroke-width="1.1"/>
<line x1="95.50" x2="500.90" y1="943.50" y2="943.50" stroke="#7a7f8a" stroke-opacity="0.38" stroke-width="1.1"/>
<line x1="95.50" x2="500.90" y1="952.10" y2="952.10" stroke="#7a7f8a" stroke-opacity="0.38" stroke-width="1.1"/>
<line x1="95.50" x2="500.90" y1="960.70" y2="960.70" stroke="#7a7f8a" stroke-opacity="0.38" stroke-width="1.1"/>
<line x1="95.50" x2="500.90" y1="977.90" y2="977.90" stroke="#7a7f8a" stroke-opacity="0.38" stroke-width="1.1"/>
<line x1="95.50" x2="500.90" y1="986.50" y2="986.50" stroke="#7a7f8a" stroke-opacity="0.38" stroke-width="1.1"/>
<line x1="95.50" x2="500.90" y1="995.10" y2="995.10" stroke="#7a7f8a" stroke-opacity="0.38" stroke-width="1.1"/>
<line x1="95.50" x2="500.90" y1="1003.70" y2="1003.70" stroke="#7a7f8a" stroke-opacity="0.38" stroke-width="1.1"/>
<line x1="95.50" x2="500.90" y1="1020.90" y2="1020.90" stroke="#7a7f8a" stroke-opacity="0.38" stroke-width="1.1"/>
<line x1="95.50" x2="500.90" y1="1029.50" y2="1029.50" stroke="#7a7f8a" stroke-opacity="0.38" stroke-width="1.1"/>
<line x1="95.50" x2="500.90" y1="1038.10" y2="1038.10" stroke="#7a7f8a" stroke-opacity="0.38" stroke-width="1.1"/>
<line x1="95.50" x2="500.90" y1="1046.70" y2="1046.70" stroke="#7a7f8a" stroke-opacity="0.38" stroke-width="1.1"/>
<line x1="95.50" x2="500.90" y1="840.30" y2="840.30" stroke="#2b3245" stroke-opacity="0.85" stroke-width="1.3"/>
<line x1="95.50" x2="500.90" y1="883.30" y2="883.30" stroke="#2b3245" stroke-opacity="0.85" stroke-width="1.3"/>
<line x1="95.50" x2="500.90" y1="969.30" y2="969.30" stroke="#2b3245" stroke-opacity="0.85" stroke-width="1.3"/>
<line x1="95.50" x2="500.90" y1="1012.30" y2="1012.30" stroke="#2b3245" stroke-opacity="0.85" stroke-width="1.3"/>
<line x1="95.50" x2="500.90" y1="926.30" y2="926.30" stroke="#000" stroke-width="2"/>
<line x1="95.50" x2="500.90" y1="1055.30" y2="1055.30" stroke="#444" stroke-width="1.5"/>
<line x1="90.50" x2="95.50" y1="805.90" y2="805.90" stroke="#333" stroke-width="1.2"/>
<line x1="90.50" x2="95.50" y1="814.50" y2="814.50" stroke="#333" stroke-width="1.2"/>
<line x1="90.50" x2="95.50" y1="823.10" y2="823.10" stroke="#333" stroke-width="1.2"/>
<line x1="90.50" x2="95.50" y1="831.70" y2="831.70" stroke="#333" stroke-width="1.2"/>
<line x1="90.50" x2="95.50" y1="840.30" y2="840.30" stroke="#333" stroke-width="1.2"/>
<line x1="90.50" x2="95.50" y1="848.90" y2="848.90" stroke="#333" stroke-width="1.2"/>
<line x1="90.50" x2="95.50" y1="857.50" y2="857.50" stroke="#333" stroke-width="1.2"/>
<line x1="90.50" x2="95.50" y1="866.10" y2="866.10" stroke="#333" stroke-width="1.2"/>
<line x1="90.50" x2="95.50" y1="874.70" y2="874.70" stroke="#333" stroke-width="1.2"/>
<line x1="90.50" x2="95.50" y1="883.30" y2="883.30" stroke="#333" stroke-width="1.2"/>
<line x1="90.50" x2="95.50" y1="891.90" y2="891.90" stroke="#333" stroke-width="1.2"/>
<line x1="90.50" x2="95.50" y1="900.50" y2="900.50" stroke="#333" stroke-width="1.2"/>
<line x1="90.50" x2="95.50" y1="909.10" y2="909.10" stroke="#333" stroke-width="1.2"/>
<line x1="90.50" x2="95.50" y1="917.70" y2="917.70" stroke="#333" stroke-width="1.2"/>
<line x1="90.50" x2="95.50" y1="926.30" y2="926.30" stroke="#333" stroke-width="1.2"/>
<line x1="90.50" x2="95.50" y1="934.90" y2="934.90" stroke="#333" stroke-width="1.2"/>
<line x1="90.50" x2="95.50" y1="943.50" y2="943.50" stroke="#333" stroke-width="1.2"/>
<line x1="90.50" x2="95.50" y1="952.10" y2="952.10" stroke="#333" stroke-width="1.2"/>
<line x1="90.50" x2="95.50" y1="960.70" y2="960.70" stroke="#333" stroke-width="1.2"/>
<line x1="90.50" x2="95.50" y1="969.30" y2="969.30" stroke="#333" stroke-width="1.2"/>
<line x1="90.50" x2="95.50" y1="977.90" y2="977.90" stroke="#333" stroke-width="1.2"/>
<line x1="90.50" x2="95.50" y1="986.50" y2="986.50" stroke="#333" stroke-width="1.2"/>
<line x1="90.50" x2="95.50" y1="995.10" y2="995.10" stroke="#333" stroke-width="1.2"/>
<line x1="90.50" x2="95.50" y1="1003.70" y2="1003.70" stroke="#333" stroke-width="1.2"/>
<line x1="90.50" x2="95.50" y1="1012.30" y2="1012.30" stroke="#333" stroke-width="1.2"/>
<line x1="90.50" x2="95.50" y1="1020.90" y2="1020.90" stroke="#333" stroke-width="1.2"/>
<line x1="90.50" x2="95.50" y1="1029.50" y2="1029.50" stroke="#333" stroke-width="1.2"/>
<line x1="90.50" x2="95.50" y1="1038.10" y2="1038.10" stroke="#333" stroke-width="1.2"/>
<line x1="90.50" x2="95.50" y1="1046.70" y2="1046.70" stroke="#333" stroke-width="1.2"/>
<line x1="90.50" x2="95.50" y1="1055.30" y2="1055.30" stroke="#333" stroke-width="1.2"/>
<rect x="95.50" y="867.69" width="59.10" height="8.00" fill="#000"/>
<rect x="154.60" y="797.30" width="58.00" height="8.00" fill="#000"/>
<rect x="212.60" y="797.30" width="57.20" height="8.00" fill="#000"/>
<rect x="269.80" y="797.30" width="58.80" height="8.00" fill="#000"/>
<rect x="328.60" y="829.85" width="57.00" height="8.00" fill="#000"/>
<rect x="385.60" y="876.72" width="57.80" height="8.00" fill="#000"/>
<rect x="443.40" y="865.97" width="57.50" height="8.00" fill="#000"/>
<line x1="154.60" x2="154.60" y1="797.30" y2="1068.60" stroke="#1a1a1a" stroke-width="1.5"/>
<line x1="212.60" x2="212.60" y1="797.30" y2="1068.60" stroke="#1a1a1a" stroke-width="1.5"/>
<line x1="269.80" x2="269.80" y1="797.30" y2="1068.60" stroke="#1a1a1a" stroke-width="1.5"/>
<line x1="328.60" x2="328.60" y1="797.30" y2="1068.60" stroke="#1a1a1a" stroke-width="1.5"/>
<line x1="385.60" x2="385.60" y1="797.30" y2="1068.60" stroke="#1a1a1a" stroke-width="1.5"/>
<line x1="443.40" x2="443.40" y1="797.30" y2="1068.60" stroke="#1a1a1a" stroke-width="1.5"/>
<line x1="95.50" x2="500.90" y1="695.20" y2="695.20" stroke="#1a1a1a" stroke-width="2"/>
<line x1="95.50" x2="500.90" y1="797.30" y2="797.30" stroke="#1a1a1a" stroke-width="1.6"/>
<line x1="154.60" x2="154.60" y1="695.20" y2="797.30" stroke="#1a1a1a" stroke-width="2"/>
<line x1="385.60" x2="385.60" y1="695.20" y2="797.30" stroke="#1a1a1a" stroke-width="2"/>
<line x1="212.60" x2="212.60" y1="680.50" y2="797.30" stroke="#1a1a1a" stroke-width="2"/>
<line x1="269.80" x2="269.80" y1="680.50" y2="797.30" stroke="#1a1a1a" stroke-width="2"/>
<line x1="328.60" x2="328.60" y1="680.50" y2="797.30" stroke="#1a1a1a" stroke-width="2"/>
<line x1="443.40" x2="443.40" y1="680.50" y2="797.30" stroke="#1a1a1a" stroke-width="2"/>
<rect x="95.50" y="680.50" width="405.40" height="116.80" fill="none" stroke="#1a1a1a" stroke-width="1.8"/>
<line x1="95.50" x2="95.50" y1="797.30" y2="1068.60" stroke="#1a1a1a" stroke-width="1.6"/>
<line x1="500.90" x2="500.90" y1="797.30" y2="1068.60" stroke="#1a1a1a" stroke-width="1.6"/>
<rect x="95.50" y="1056.10" width="405.40" height="12.50" fill="#fff"/>
<line x1="155.40" x2="155.40" y1="1055.30" y2="1068.60" stroke="#1a1a1a" stroke-width="1.8"/>
<line x1="213.40" x2="213.40" y1="1055.30" y2="1068.60" stroke="#1a1a1a" stroke-width="1.8"/>
<line x1="270.60" x2="270.60" y1="1055.30" y2="1068.60" stroke="#1a1a1a" stroke-width="1.8"/>
<line x1="329.40" x2="329.40" y1="1055.30" y2="1068.60" stroke="#1a1a1a" stroke-width="1.8"/>
<line x1="386.40" x2="386.40" y1="1055.30" y2="1068.60" stroke="#1a1a1a" stroke-width="1.8"/>
<line x1="444.20" x2="444.20" y1="1055.30" y2="1068.60" stroke="#1a1a1a" stroke-width="1.8"/>
<line x1="95.50" x2="95.50" y1="1055.30" y2="1068.60" stroke="#1a1a1a" stroke-width="2"/>
<line x1="500.90" x2="500.90" y1="1055.30" y2="1068.60" stroke="#1a1a1a" stroke-width="2"/>
<text x="111.10" y="1067.00" font-family='"Liberation Sans", sans-serif' font-size="12.2" fill="#333" stroke="#333" stroke-width="0.1" textLength="27.50" lengthAdjust="spacingAndGlyphs">1.27</text>
<text x="169.65" y="1067.00" font-family='"Liberation Sans", sans-serif' font-size="12.2" fill="#333" stroke="#333" stroke-width="0.1" textLength="27.50" lengthAdjust="spacingAndGlyphs">3.00</text>
<text x="227.25" y="1067.00" font-family='"Liberation Sans", sans-serif' font-size="12.2" fill="#333" stroke="#333" stroke-width="0.1" textLength="27.50" lengthAdjust="spacingAndGlyphs">3.00</text>
<text x="285.25" y="1067.00" font-family='"Liberation Sans", sans-serif' font-size="12.2" fill="#333" stroke="#333" stroke-width="0.1" textLength="27.50" lengthAdjust="spacingAndGlyphs">3.00</text>
<text x="343.15" y="1067.00" font-family='"Liberation Sans", sans-serif' font-size="12.2" fill="#333" stroke="#333" stroke-width="0.1" textLength="27.50" lengthAdjust="spacingAndGlyphs">2.15</text>
<text x="400.55" y="1067.00" font-family='"Liberation Sans", sans-serif' font-size="12.2" fill="#333" stroke="#333" stroke-width="0.1" textLength="27.50" lengthAdjust="spacingAndGlyphs">1.06</text>
<text x="458.20" y="1067.00" font-family='"Liberation Sans", sans-serif' font-size="12.2" fill="#333" stroke="#333" stroke-width="0.1" textLength="27.50" lengthAdjust="spacingAndGlyphs">1.31</text>
<line x1="94.50" x2="501.90" y1="1068.60" y2="1068.60" stroke="#1a1a1a" stroke-width="2.2"/>
<text x="156.25" y="691.60" font-family='"Liberation Sans", sans-serif' font-size="11.4" fill="#222" stroke="#222" stroke-width="0.3" text-anchor="middle">1</text>
<text x="243.40" y="691.60" font-family='"Liberation Sans", sans-serif' font-size="11.4" fill="#222" stroke="#222" stroke-width="0.3" text-anchor="middle">2</text>
<text x="301.40" y="691.60" font-family='"Liberation Sans", sans-serif' font-size="11.4" fill="#222" stroke="#222" stroke-width="0.3" text-anchor="middle">3</text>
<text x="388.20" y="691.60" font-family='"Liberation Sans", sans-serif' font-size="11.4" fill="#222" stroke="#222" stroke-width="0.3" text-anchor="middle">4</text>
<text x="474.35" y="691.60" font-family='"Liberation Sans", sans-serif' font-size="11.4" fill="#222" stroke="#222" stroke-width="0.3" text-anchor="middle">5</text>
<text transform="translate(126.05,788.50) rotate(-90)" x="0" y="0" font-family='"Liberation Sans", sans-serif' font-size="14.0" fill="#000" fill-opacity="0.74" stroke="#000" stroke-opacity="0.6" stroke-width="0.35" textLength="88.50" lengthAdjust="spacingAndGlyphs">Superior/middle</text>
<text transform="translate(139.63,788.50) rotate(-90)" x="0" y="0" font-family='"Liberation Sans", sans-serif' font-size="14.0" fill="#000" fill-opacity="0.74" stroke="#000" stroke-opacity="0.6" stroke-width="0.35" textLength="76.00" lengthAdjust="spacingAndGlyphs">Frontal Gyrus</text>
<text transform="translate(186.15,788.70) rotate(-90)" x="0" y="0" font-family='"Liberation Sans", sans-serif' font-size="14.0" fill="#000" fill-opacity="0.74" stroke="#000" stroke-opacity="0.6" stroke-width="0.35" textLength="84.00" lengthAdjust="spacingAndGlyphs">Inferior Frontal</text>
<text transform="translate(201.93,788.70) rotate(-90)" x="0" y="0" font-family='"Liberation Sans", sans-serif' font-size="14.0" fill="#000" fill-opacity="0.74" stroke="#000" stroke-opacity="0.6" stroke-width="0.35" textLength="32.50" lengthAdjust="spacingAndGlyphs">Gyrus</text>
<text transform="translate(243.25,789.00) rotate(-90)" x="0" y="0" font-family='"Liberation Sans", sans-serif' font-size="14.0" fill="#000" fill-opacity="0.74" stroke="#000" stroke-opacity="0.6" stroke-width="0.35" textLength="90.50" lengthAdjust="spacingAndGlyphs">Posterior Medial</text>
<text transform="translate(258.93,789.00) rotate(-90)" x="0" y="0" font-family='"Liberation Sans", sans-serif' font-size="14.0" fill="#000" fill-opacity="0.74" stroke="#000" stroke-opacity="0.6" stroke-width="0.35" textLength="80.50" lengthAdjust="spacingAndGlyphs">Frontal Cortex</text>
<text transform="translate(300.55,789.00) rotate(-90)" x="0" y="0" font-family='"Liberation Sans", sans-serif' font-size="14.0" fill="#000" fill-opacity="0.74" stroke="#000" stroke-opacity="0.6" stroke-width="0.35" textLength="45.00" lengthAdjust="spacingAndGlyphs">Superior</text>
<text transform="translate(314.93,789.00) rotate(-90)" x="0" y="0" font-family='"Liberation Sans", sans-serif' font-size="14.0" fill="#000" fill-opacity="0.74" stroke="#000" stroke-opacity="0.6" stroke-width="0.35" textLength="73.50" lengthAdjust="spacingAndGlyphs">Parietal Lobe</text>
<text transform="translate(360.55,790.50) rotate(-90)" x="0" y="0" font-family='"Liberation Sans", sans-serif' font-size="14.0" fill="#000" fill-opacity="0.74" stroke="#000" stroke-opacity="0.6" stroke-width="0.35" textLength="93.00" lengthAdjust="spacingAndGlyphs">Fusiform/Inferior</text>
<text transform="translate(375.03,790.50) rotate(-90)" x="0" y="0" font-family='"Liberation Sans", sans-serif' font-size="14.0" fill="#000" fill-opacity="0.74" stroke="#000" stroke-opacity="0.6" stroke-width="0.35" textLength="91.00" lengthAdjust="spacingAndGlyphs">Occipital Cortex</text>
<text transform="translate(414.76,790.10) rotate(-90)" x="0" y="0" font-family='"Liberation Sans", sans-serif' font-size="14.0" fill="#000" fill-opacity="0.74" stroke="#000" stroke-opacity="0.6" stroke-width="0.35" textLength="90.00" lengthAdjust="spacingAndGlyphs">Middle Occipital</text>
<text transform="translate(430.93,790.10) rotate(-90)" x="0" y="0" font-family='"Liberation Sans", sans-serif' font-size="14.0" fill="#000" fill-opacity="0.74" stroke="#000" stroke-opacity="0.6" stroke-width="0.35" textLength="32.50" lengthAdjust="spacingAndGlyphs">Gyrus</text>
<text transform="translate(473.16,788.30) rotate(-90)" x="0" y="0" font-family='"Liberation Sans", sans-serif' font-size="14.0" fill="#000" fill-opacity="0.74" stroke="#000" stroke-opacity="0.6" stroke-width="0.35" textLength="47.50" lengthAdjust="spacingAndGlyphs">Superior</text>
<text transform="translate(488.93,788.30) rotate(-90)" x="0" y="0" font-family='"Liberation Sans", sans-serif' font-size="14.0" fill="#000" fill-opacity="0.74" stroke="#000" stroke-opacity="0.6" stroke-width="0.35" textLength="53.50" lengthAdjust="spacingAndGlyphs">Colliculus</text>
<rect x="551.10" y="610.30" width="418.80" height="68.20" fill="#fff" stroke="#000" stroke-width="2.6"/>
<text x="571.20" y="652.90" font-family='"Liberation Sans", sans-serif' font-size="27.4" fill="#2c2c2c" textLength="379.00" lengthAdjust="spacingAndGlyphs">Post-Treatment fMRI COVID-19</text>
<rect x="558.80" y="683.40" width="116.40" height="117.10" fill="#fda043"/>
<rect x="675.20" y="683.40" width="57.20" height="117.10" fill="#a9e4f6"/>
<rect x="732.40" y="683.40" width="58.30" height="117.10" fill="#9b61be"/>
<rect x="790.70" y="683.40" width="114.50" height="117.10" fill="#fbf46b"/>
<rect x="905.20" y="683.40" width="57.40" height="117.10" fill="#fe6565"/>
<rect x="558.80" y="800.50" width="403.80" height="43.13" fill="#ffffff"/>
<rect x="558.80" y="843.33" width="403.80" height="43.13" fill="#ccddfc"/>
<rect x="558.80" y="886.17" width="403.80" height="43.13" fill="#aec8fa"/>
<rect x="558.80" y="929.00" width="403.80" height="43.13" fill="#aec8fa"/>
<rect x="558.80" y="971.83" width="403.80" height="43.13" fill="#ccddfc"/>
<rect x="558.80" y="1014.67" width="403.80" height="43.13" fill="#ffffff"/>
<line x1="558.80" x2="962.60" y1="809.07" y2="809.07" stroke="#7a7f8a" stroke-opacity="0.38" stroke-width="1.1"/>
<line x1="558.80" x2="962.60" y1="817.63" y2="817.63" stroke="#7a7f8a" stroke-opacity="0.38" stroke-width="1.1"/>
<line x1="558.80" x2="962.60" y1="826.20" y2="826.20" stroke="#7a7f8a" stroke-opacity="0.38" stroke-width="1.1"/>
<line x1="558.80" x2="962.60" y1="834.77" y2="834.77" stroke="#7a7f8a" stroke-opacity="0.38" stroke-width="1.1"/>
<line x1="558.80" x2="962.60" y1="851.90" y2="851.90" stroke="#7a7f8a" stroke-opacity="0.38" stroke-width="1.1"/>
<line x1="558.80" x2="962.60" y1="860.47" y2="860.47" stroke="#7a7f8a" stroke-opacity="0.38" stroke-width="1.1"/>
<line x1="558.80" x2="962.60" y1="869.03" y2="869.03" stroke="#7a7f8a" stroke-opacity="0.38" stroke-width="1.1"/>
<line x1="558.80" x2="962.60" y1="877.60" y2="877.60" stroke="#7a7f8a" stroke-opacity="0.38" stroke-width="1.1"/>
<line x1="558.80" x2="962.60" y1="894.73" y2="894.73" stroke="#7a7f8a" stroke-opacity="0.38" stroke-width="1.1"/>
<line x1="558.80" x2="962.60" y1="903.30" y2="903.30" stroke="#7a7f8a" stroke-opacity="0.38" stroke-width="1.1"/>
<line x1="558.80" x2="962.60" y1="911.87" y2="911.87" stroke="#7a7f8a" stroke-opacity="0.38" stroke-width="1.1"/>
<line x1="558.80" x2="962.60" y1="920.43" y2="920.43" stroke="#7a7f8a" stroke-opacity="0.38" stroke-width="1.1"/>
<line x1="558.80" x2="962.60" y1="937.57" y2="937.57" stroke="#7a7f8a" stroke-opacity="0.38" stroke-width="1.1"/>
<line x1="558.80" x2="962.60" y1="946.13" y2="946.13" stroke="#7a7f8a" stroke-opacity="0.38" stroke-width="1.1"/>
<line x1="558.80" x2="962.60" y1="954.70" y2="954.70" stroke="#7a7f8a" stroke-opacity="0.38" stroke-width="1.1"/>
<line x1="558.80" x2="962.60" y1="963.27" y2="963.27" stroke="#7a7f8a" stroke-opacity="0.38" stroke-width="1.1"/>
<line x1="558.80" x2="962.60" y1="980.40" y2="980.40" stroke="#7a7f8a" stroke-opacity="0.38" stroke-width="1.1"/>
<line x1="558.80" x2="962.60" y1="988.97" y2="988.97" stroke="#7a7f8a" stroke-opacity="0.38" stroke-width="1.1"/>
<line x1="558.80" x2="962.60" y1="997.53" y2="997.53" stroke="#7a7f8a" stroke-opacity="0.38" stroke-width="1.1"/>
<line x1="558.80" x2="962.60" y1="1006.10" y2="1006.10" stroke="#7a7f8a" stroke-opacity="0.38" stroke-width="1.1"/>
<line x1="558.80" x2="962.60" y1="1023.23" y2="1023.23" stroke="#7a7f8a" stroke-opacity="0.38" stroke-width="1.1"/>
<line x1="558.80" x2="962.60" y1="1031.80" y2="1031.80" stroke="#7a7f8a" stroke-opacity="0.38" stroke-width="1.1"/>
<line x1="558.80" x2="962.60" y1="1040.37" y2="1040.37" stroke="#7a7f8a" stroke-opacity="0.38" stroke-width="1.1"/>
<line x1="558.80" x2="962.60" y1="1048.93" y2="1048.93" stroke="#7a7f8a" stroke-opacity="0.38" stroke-width="1.1"/>
<line x1="558.80" x2="962.60" y1="843.33" y2="843.33" stroke="#2b3245" stroke-opacity="0.85" stroke-width="1.3"/>
<line x1="558.80" x2="962.60" y1="886.17" y2="886.17" stroke="#2b3245" stroke-opacity="0.85" stroke-width="1.3"/>
<line x1="558.80" x2="962.60" y1="971.83" y2="971.83" stroke="#2b3245" stroke-opacity="0.85" stroke-width="1.3"/>
<line x1="558.80" x2="962.60" y1="1014.67" y2="1014.67" stroke="#2b3245" stroke-opacity="0.85" stroke-width="1.3"/>
<line x1="558.80" x2="962.60" y1="929.00" y2="929.00" stroke="#000" stroke-width="2"/>
<line x1="558.80" x2="962.60" y1="1057.50" y2="1057.50" stroke="#444" stroke-width="1.5"/>
<line x1="553.80" x2="558.80" y1="809.07" y2="809.07" stroke="#333" stroke-width="1.2"/>
<line x1="553.80" x2="558.80" y1="817.63" y2="817.63" stroke="#333" stroke-width="1.2"/>
<line x1="553.80" x2="558.80" y1="826.20" y2="826.20" stroke="#333" stroke-width="1.2"/>
<line x1="553.80" x2="558.80" y1="834.77" y2="834.77" stroke="#333" stroke-width="1.2"/>
<line x1="553.80" x2="558.80" y1="843.33" y2="843.33" stroke="#333" stroke-width="1.2"/>
<line x1="553.80" x2="558.80" y1="851.90" y2="851.90" stroke="#333" stroke-width="1.2"/>
<line x1="553.80" x2="558.80" y1="860.47" y2="860.47" stroke="#333" stroke-width="1.2"/>
<line x1="553.80" x2="558.80" y1="869.03" y2="869.03" stroke="#333" stroke-width="1.2"/>
<line x1="553.80" x2="558.80" y1="877.60" y2="877.60" stroke="#333" stroke-width="1.2"/>
<line x1="553.80" x2="558.80" y1="886.17" y2="886.17" stroke="#333" stroke-width="1.2"/>
<line x1="553.80" x2="558.80" y1="894.73" y2="894.73" stroke="#333" stroke-width="1.2"/>
<line x1="553.80" x2="558.80" y1="903.30" y2="903.30" stroke="#333" stroke-width="1.2"/>
<line x1="553.80" x2="558.80" y1="911.87" y2="911.87" stroke="#333" stroke-width="1.2"/>
<line x1="553.80" x2="558.80" y1="920.43" y2="920.43" stroke="#333" stroke-width="1.2"/>
<line x1="553.80" x2="558.80" y1="929.00" y2="929.00" stroke="#333" stroke-width="1.2"/>
<line x1="553.80" x2="558.80" y1="937.57" y2="937.57" stroke="#333" stroke-width="1.2"/>
<line x1="553.80" x2="558.80" y1="946.13" y2="946.13" stroke="#333" stroke-width="1.2"/>
<line x1="553.80" x2="558.80" y1="954.70" y2="954.70" stroke="#333" stroke-width="1.2"/>
<line x1="553.80" x2="558.80" y1="963.27" y2="963.27" stroke="#333" stroke-width="1.2"/>
<line x1="553.80" x2="558.80" y1="971.83" y2="971.83" stroke="#333" stroke-width="1.2"/>
<line x1="553.80" x2="558.80" y1="980.40" y2="980.40" stroke="#333" stroke-width="1.2"/>
<line x1="553.80" x2="558.80" y1="988.97" y2="988.97" stroke="#333" stroke-width="1.2"/>
<line x1="553.80" x2="558.80" y1="997.53" y2="997.53" stroke="#333" stroke-width="1.2"/>
<line x1="553.80" x2="558.80" y1="1006.10" y2="1006.10" stroke="#333" stroke-width="1.2"/>
<line x1="553.80" x2="558.80" y1="1014.67" y2="1014.67" stroke="#333" stroke-width="1.2"/>
<line x1="553.80" x2="558.80" y1="1023.23" y2="1023.23" stroke="#333" stroke-width="1.2"/>
<line x1="553.80" x2="558.80" y1="1031.80" y2="1031.80" stroke="#333" stroke-width="1.2"/>
<line x1="553.80" x2="558.80" y1="1040.37" y2="1040.37" stroke="#333" stroke-width="1.2"/>
<line x1="553.80" x2="558.80" y1="1048.93" y2="1048.93" stroke="#333" stroke-width="1.2"/>
<line x1="553.80" x2="558.80" y1="1057.50" y2="1057.50" stroke="#333" stroke-width="1.2"/>
<rect x="558.80" y="906.15" width="58.40" height="8.00" fill="#000"/>
<rect x="617.20" y="857.75" width="58.00" height="8.00" fill="#000"/>
<rect x="675.20" y="917.72" width="57.20" height="8.00" fill="#000"/>
<rect x="732.40" y="863.32" width="58.30" height="8.00" fill="#000"/>
<rect x="790.70" y="908.72" width="57.50" height="8.00" fill="#000"/>
<rect x="848.20" y="905.73" width="57.00" height="8.00" fill="#000"/>
<rect x="905.20" y="861.18" width="57.40" height="8.00" fill="#000"/>
<line x1="617.20" x2="617.20" y1="800.50" y2="1071.10" stroke="#1a1a1a" stroke-width="1.5"/>
<line x1="675.20" x2="675.20" y1="800.50" y2="1071.10" stroke="#1a1a1a" stroke-width="1.5"/>
<line x1="732.40" x2="732.40" y1="800.50" y2="1071.10" stroke="#1a1a1a" stroke-width="1.5"/>
<line x1="790.70" x2="790.70" y1="800.50" y2="1071.10" stroke="#1a1a1a" stroke-width="1.5"/>
<line x1="848.20" x2="848.20" y1="800.50" y2="1071.10" stroke="#1a1a1a" stroke-width="1.5"/>
<line x1="905.20" x2="905.20" y1="800.50" y2="1071.10" stroke="#1a1a1a" stroke-width="1.5"/>
<line x1="558.80" x2="962.60" y1="698.40" y2="698.40" stroke="#1a1a1a" stroke-width="2"/>
<line x1="558.80" x2="962.60" y1="800.50" y2="800.50" stroke="#1a1a1a" stroke-width="1.6"/>
<line x1="617.20" x2="617.20" y1="698.40" y2="800.50" stroke="#1a1a1a" stroke-width="2"/>
<line x1="848.20" x2="848.20" y1="698.40" y2="800.50" stroke="#1a1a1a" stroke-width="2"/>
<line x1="675.20" x2="675.20" y1="683.40" y2="800.50" stroke="#1a1a1a" stroke-width="2"/>
<line x1="732.40" x2="732.40" y1="683.40" y2="800.50" stroke="#1a1a1a" stroke-width="2"/>
<line x1="790.70" x2="790.70" y1="683.40" y2="800.50" stroke="#1a1a1a" stroke-width="2"/>
<line x1="905.20" x2="905.20" y1="683.40" y2="800.50" stroke="#1a1a1a" stroke-width="2"/>
<rect x="558.80" y="683.40" width="403.80" height="117.10" fill="none" stroke="#1a1a1a" stroke-width="1.8"/>
<line x1="558.80" x2="558.80" y1="800.50" y2="1071.10" stroke="#1a1a1a" stroke-width="1.6"/>
<line x1="962.60" x2="962.60" y1="800.50" y2="1071.10" stroke="#1a1a1a" stroke-width="1.6"/>
<rect x="558.80" y="1058.30" width="403.80" height="12.80" fill="#fff"/>
<line x1="618.00" x2="618.00" y1="1057.50" y2="1071.10" stroke="#1a1a1a" stroke-width="1.8"/>
<line x1="676.00" x2="676.00" y1="1057.50" y2="1071.10" stroke="#1a1a1a" stroke-width="1.8"/>
<line x1="733.20" x2="733.20" y1="1057.50" y2="1071.10" stroke="#1a1a1a" stroke-width="1.8"/>
<line x1="791.50" x2="791.50" y1="1057.50" y2="1071.10" stroke="#1a1a1a" stroke-width="1.8"/>
<line x1="849.00" x2="849.00" y1="1057.50" y2="1071.10" stroke="#1a1a1a" stroke-width="1.8"/>
<line x1="906.00" x2="906.00" y1="1057.50" y2="1071.10" stroke="#1a1a1a" stroke-width="1.8"/>
<line x1="558.80" x2="558.80" y1="1057.50" y2="1071.10" stroke="#1a1a1a" stroke-width="2"/>
<line x1="962.60" x2="962.60" y1="1057.50" y2="1071.10" stroke="#1a1a1a" stroke-width="2"/>
<text x="574.05" y="1069.90" font-family='"Liberation Sans", sans-serif' font-size="12.2" fill="#333" stroke="#333" stroke-width="0.1" textLength="27.50" lengthAdjust="spacingAndGlyphs">0.44</text>
<text x="632.25" y="1069.90" font-family='"Liberation Sans", sans-serif' font-size="12.2" fill="#333" stroke="#333" stroke-width="0.1" textLength="27.50" lengthAdjust="spacingAndGlyphs">1.57</text>
<text x="689.85" y="1069.90" font-family='"Liberation Sans", sans-serif' font-size="12.2" fill="#333" stroke="#333" stroke-width="0.1" textLength="27.50" lengthAdjust="spacingAndGlyphs">0.17</text>
<text x="747.60" y="1069.90" font-family='"Liberation Sans", sans-serif' font-size="12.2" fill="#333" stroke="#333" stroke-width="0.1" textLength="27.50" lengthAdjust="spacingAndGlyphs">1.44</text>
<text x="805.50" y="1069.90" font-family='"Liberation Sans", sans-serif' font-size="12.2" fill="#333" stroke="#333" stroke-width="0.1" textLength="27.50" lengthAdjust="spacingAndGlyphs">0.38</text>
<text x="862.75" y="1069.90" font-family='"Liberation Sans", sans-serif' font-size="12.2" fill="#333" stroke="#333" stroke-width="0.1" textLength="27.50" lengthAdjust="spacingAndGlyphs">0.45</text>
<text x="919.95" y="1069.90" font-family='"Liberation Sans", sans-serif' font-size="12.2" fill="#333" stroke="#333" stroke-width="0.1" textLength="27.50" lengthAdjust="spacingAndGlyphs">1.49</text>
<line x1="557.80" x2="963.60" y1="1071.10" y2="1071.10" stroke="#1a1a1a" stroke-width="2.2"/>
<text x="619.20" y="694.80" font-family='"Liberation Sans", sans-serif' font-size="11.4" fill="#222" stroke="#222" stroke-width="0.3" text-anchor="middle">1</text>
<text x="706.00" y="694.80" font-family='"Liberation Sans", sans-serif' font-size="11.4" fill="#222" stroke="#222" stroke-width="0.3" text-anchor="middle">2</text>
<text x="763.75" y="694.80" font-family='"Liberation Sans", sans-serif' font-size="11.4" fill="#222" stroke="#222" stroke-width="0.3" text-anchor="middle">3</text>
<text x="850.15" y="694.80" font-family='"Liberation Sans", sans-serif' font-size="11.4" fill="#222" stroke="#222" stroke-width="0.3" text-anchor="middle">4</text>
<text x="936.10" y="694.80" font-family='"Liberation Sans", sans-serif' font-size="11.4" fill="#222" stroke="#222" stroke-width="0.3" text-anchor="middle">5</text>
<text transform="translate(589.23,791.70) rotate(-90)" x="0" y="0" font-family='"Liberation Sans", sans-serif' font-size="14.0" fill="#000" fill-opacity="0.74" stroke="#000" stroke-opacity="0.6" stroke-width="0.35" textLength="88.50" lengthAdjust="spacingAndGlyphs">Superior/middle</text>
<text transform="translate(602.76,791.70) rotate(-90)" x="0" y="0" font-family='"Liberation Sans", sans-serif' font-size="14.0" fill="#000" fill-opacity="0.74" stroke="#000" stroke-opacity="0.6" stroke-width="0.35" textLength="76.00" lengthAdjust="spacingAndGlyphs">Frontal Gyrus</text>
<text transform="translate(648.63,791.90) rotate(-90)" x="0" y="0" font-family='"Liberation Sans", sans-serif' font-size="14.0" fill="#000" fill-opacity="0.74" stroke="#000" stroke-opacity="0.6" stroke-width="0.35" textLength="84.00" lengthAdjust="spacingAndGlyphs">Inferior Frontal</text>
<text transform="translate(664.34,791.90) rotate(-90)" x="0" y="0" font-family='"Liberation Sans", sans-serif' font-size="14.0" fill="#000" fill-opacity="0.74" stroke="#000" stroke-opacity="0.6" stroke-width="0.35" textLength="32.50" lengthAdjust="spacingAndGlyphs">Gyrus</text>
<text transform="translate(705.73,792.20) rotate(-90)" x="0" y="0" font-family='"Liberation Sans", sans-serif' font-size="14.0" fill="#000" fill-opacity="0.74" stroke="#000" stroke-opacity="0.6" stroke-width="0.35" textLength="90.50" lengthAdjust="spacingAndGlyphs">Posterior Medial</text>
<text transform="translate(721.35,792.20) rotate(-90)" x="0" y="0" font-family='"Liberation Sans", sans-serif' font-size="14.0" fill="#000" fill-opacity="0.74" stroke="#000" stroke-opacity="0.6" stroke-width="0.35" textLength="80.50" lengthAdjust="spacingAndGlyphs">Frontal Cortex</text>
<text transform="translate(763.03,792.20) rotate(-90)" x="0" y="0" font-family='"Liberation Sans", sans-serif' font-size="14.0" fill="#000" fill-opacity="0.74" stroke="#000" stroke-opacity="0.6" stroke-width="0.35" textLength="45.00" lengthAdjust="spacingAndGlyphs">Superior</text>
<text transform="translate(777.36,792.20) rotate(-90)" x="0" y="0" font-family='"Liberation Sans", sans-serif' font-size="14.0" fill="#000" fill-opacity="0.74" stroke="#000" stroke-opacity="0.6" stroke-width="0.35" textLength="73.50" lengthAdjust="spacingAndGlyphs">Parietal Lobe</text>
<text transform="translate(822.53,793.70) rotate(-90)" x="0" y="0" font-family='"Liberation Sans", sans-serif' font-size="14.0" fill="#000" fill-opacity="0.74" stroke="#000" stroke-opacity="0.6" stroke-width="0.35" textLength="93.00" lengthAdjust="spacingAndGlyphs">Fusiform/Inferior</text>
<text transform="translate(836.95,793.70) rotate(-90)" x="0" y="0" font-family='"Liberation Sans", sans-serif' font-size="14.0" fill="#000" fill-opacity="0.74" stroke="#000" stroke-opacity="0.6" stroke-width="0.35" textLength="91.00" lengthAdjust="spacingAndGlyphs">Occipital Cortex</text>
<text transform="translate(877.24,793.30) rotate(-90)" x="0" y="0" font-family='"Liberation Sans", sans-serif' font-size="14.0" fill="#000" fill-opacity="0.74" stroke="#000" stroke-opacity="0.6" stroke-width="0.35" textLength="90.00" lengthAdjust="spacingAndGlyphs">Middle Occipital</text>
<text transform="translate(893.35,793.30) rotate(-90)" x="0" y="0" font-family='"Liberation Sans", sans-serif' font-size="14.0" fill="#000" fill-opacity="0.74" stroke="#000" stroke-opacity="0.6" stroke-width="0.35" textLength="32.50" lengthAdjust="spacingAndGlyphs">Gyrus</text>
<text transform="translate(934.84,791.50) rotate(-90)" x="0" y="0" font-family='"Liberation Sans", sans-serif' font-size="14.0" fill="#000" fill-opacity="0.74" stroke="#000" stroke-opacity="0.6" stroke-width="0.35" textLength="47.50" lengthAdjust="spacingAndGlyphs">Superior</text>
<text transform="translate(950.55,791.50) rotate(-90)" x="0" y="0" font-family='"Liberation Sans", sans-serif' font-size="14.0" fill="#000" fill-opacity="0.74" stroke="#000" stroke-opacity="0.6" stroke-width="0.35" textLength="53.50" lengthAdjust="spacingAndGlyphs">Colliculus</text>
<path d="M986.20,357.20 L1003.59,357.20 L1004.18,357.94 L1004.78,358.67 L1005.40,359.40 L1006.03,360.14 L1006.67,360.88 L1007.33,361.61 L1008.01,362.34 L1008.70,363.08 L1009.41,363.81 L1010.14,364.55 L1010.87,365.28 L1011.63,366.02 L1012.40,366.75 L1013.19,367.49 L1013.99,368.22 L1014.81,368.96 L1015.64,369.69 L1016.49,370.43 L1017.36,371.16 L1018.24,371.90 L1019.14,372.63 L1020.05,373.37 L1020.98,374.10 L1021.93,374.84 L1022.89,375.57 L1023.86,376.31 L1024.86,377.04 L1025.86,377.78 L1026.88,378.51 L1027.92,379.25 L1028.97,379.98 L1030.03,380.72 L1031.11,381.45 L1032.20,382.19 L1033.31,382.92 L1034.43,383.66 L1035.56,384.39 L1036.70,385.13 L1037.86,385.86 L1039.03,386.60 L1040.21,387.33 L1041.40,388.07 L1042.60,388.80 L1043.81,389.54 L1045.03,390.27 L1046.26,391.01 L1047.50,391.74 L1048.75,392.48 L1050.00,393.21 L1051.26,393.95 L1052.53,394.68 L1053.81,395.42 L1055.09,396.15 L1056.37,396.89 L1057.66,397.62 L1058.95,398.36 L1060.25,399.09 L1061.54,399.83 L1062.84,400.56 L1064.14,401.30 L986.20,401.30Z" fill="#ccddfc"/>
<path d="M986.20,401.30 L1064.14,401.30 L1066.74,402.77 L1069.33,404.24 L1071.91,405.71 L1074.47,407.18 L1077.00,408.65 L1079.51,410.12 L1081.98,411.59 L1084.40,413.06 L1086.78,414.53 L1089.09,416.00 L1091.35,417.47 L1093.53,418.94 L1095.64,420.41 L1097.66,421.88 L1099.60,423.35 L1101.44,424.82 L1103.18,426.29 L1104.82,427.76 L1106.35,429.23 L1107.76,430.70 L1109.05,432.17 L1110.21,433.64 L1111.25,435.11 L1112.16,436.58 L1112.93,438.05 L1113.56,439.52 L1114.06,440.99 L1114.41,442.46 L1114.63,443.93 L1114.70,445.40 L1114.63,446.87 L1114.41,448.34 L1114.06,449.81 L1113.56,451.28 L1112.93,452.75 L1112.16,454.22 L1111.25,455.69 L1110.21,457.16 L1109.05,458.63 L1107.76,460.10 L1106.35,461.57 L1104.82,463.04 L1103.18,464.51 L1101.44,465.98 L1099.60,467.45 L1097.66,468.92 L1095.64,470.39 L1093.53,471.86 L1091.35,473.33 L1089.09,474.80 L1086.78,476.27 L1084.40,477.74 L1081.98,479.21 L1079.51,480.68 L1077.00,482.15 L1074.47,483.62 L1071.91,485.09 L1069.33,486.56 L1066.74,488.03 L1064.14,489.50 L986.20,489.50Z" fill="#aec8fa"/>
<path d="M986.20,489.50 L1064.14,489.50 L1062.84,490.24 L1061.54,490.97 L1060.25,491.70 L1058.95,492.44 L1057.66,493.18 L1056.37,493.91 L1055.09,494.64 L1053.81,495.38 L1052.53,496.12 L1051.26,496.85 L1050.00,497.58 L1048.75,498.32 L1047.50,499.06 L1046.26,499.79 L1045.03,500.52 L1043.81,501.26 L1042.60,502.00 L1041.40,502.73 L1040.21,503.47 L1039.03,504.20 L1037.86,504.94 L1036.70,505.67 L1035.56,506.41 L1034.43,507.14 L1033.31,507.88 L1032.20,508.61 L1031.11,509.35 L1030.03,510.08 L1028.97,510.81 L1027.92,511.55 L1026.88,512.28 L1025.86,513.02 L1024.86,513.75 L1023.86,514.49 L1022.89,515.23 L1021.93,515.96 L1020.98,516.70 L1020.05,517.43 L1019.14,518.16 L1018.24,518.90 L1017.36,519.63 L1016.49,520.37 L1015.64,521.11 L1014.81,521.84 L1013.99,522.58 L1013.19,523.31 L1012.40,524.05 L1011.63,524.78 L1010.87,525.51 L1010.14,526.25 L1009.41,526.99 L1008.70,527.72 L1008.01,528.46 L1007.33,529.19 L1006.67,529.93 L1006.03,530.66 L1005.40,531.39 L1004.78,532.13 L1004.18,532.87 L1003.59,533.60 L986.20,533.60Z" fill="#ccddfc"/>
<line x1="986.20" x2="1003.59" y1="357.20" y2="357.20" stroke="#9fb3de" stroke-width="1.2"/>
<line x1="986.20" x2="1064.14" y1="401.30" y2="401.30" stroke="#4a5f93" stroke-width="1.3"/>
<line x1="986.20" x2="1114.70" y1="445.40" y2="445.40" stroke="#4a5f93" stroke-width="1.3"/>
<line x1="986.20" x2="1064.14" y1="489.50" y2="489.50" stroke="#4a5f93" stroke-width="1.3"/>
<line x1="986.20" x2="1003.59" y1="533.60" y2="533.60" stroke="#9fb3de" stroke-width="1.2"/>
<path d="M987.63,313.10 L987.76,314.42 L987.91,315.75 L988.06,317.07 L988.23,318.39 L988.41,319.71 L988.61,321.04 L988.82,322.36 L989.05,323.68 L989.29,325.01 L989.56,326.33 L989.84,327.65 L990.14,328.98 L990.46,330.30 L990.81,331.62 L991.18,332.94 L991.57,334.27 L991.99,335.59 L992.43,336.91 L992.91,338.24 L993.41,339.56 L993.95,340.88 L994.52,342.21 L995.12,343.53 L995.75,344.85 L996.42,346.17 L997.13,347.50 L997.88,348.82 L998.67,350.14 L999.50,351.47 L1000.37,352.79 L1001.28,354.11 L1002.24,355.44 L1003.25,356.76 L1004.30,358.08 L1005.40,359.40 L1006.54,360.73 L1007.74,362.05 L1008.99,363.37 L1010.28,364.70 L1011.63,366.02 L1013.03,367.34 L1014.48,368.67 L1015.98,369.99 L1017.53,371.31 L1019.14,372.63 L1020.80,373.96 L1022.50,375.28 L1024.26,376.60 L1026.06,377.93 L1027.92,379.25 L1029.82,380.57 L1031.76,381.90 L1033.75,383.22 L1035.79,384.54 L1037.86,385.87 L1039.97,387.19 L1042.12,388.51 L1044.30,389.83 L1046.51,391.16 L1048.75,392.48 L1051.01,393.80 L1053.30,395.13 L1055.60,396.45 L1057.92,397.77 L1060.25,399.09 L1062.58,400.42 L1064.92,401.74 L1067.26,403.06 L1069.59,404.39 L1071.91,405.71 L1074.21,407.03 L1076.50,408.36 L1078.76,409.68 L1081.00,411.00 L1083.20,412.32 L1085.36,413.65 L1087.48,414.97 L1089.55,416.29 L1091.57,417.62 L1093.53,418.94 L1095.43,420.26 L1097.27,421.59 L1099.03,422.91 L1100.72,424.23 L1102.33,425.55 L1103.85,426.88 L1105.29,428.20 L1106.64,429.52 L1107.89,430.85 L1109.05,432.17 L1110.10,433.49 L1111.05,434.82 L1111.90,436.14 L1112.64,437.46 L1113.26,438.78 L1113.78,440.11 L1114.18,441.43 L1114.47,442.75 L1114.64,444.08 L1114.70,445.40 L1114.64,446.72 L1114.47,448.05 L1114.18,449.37 L1113.78,450.69 L1113.26,452.01 L1112.64,453.34 L1111.90,454.66 L1111.05,455.98 L1110.10,457.31 L1109.05,458.63 L1107.89,459.95 L1106.64,461.28 L1105.29,462.60 L1103.85,463.92 L1102.33,465.25 L1100.72,466.57 L1099.03,467.89 L1097.27,469.21 L1095.43,470.54 L1093.53,471.86 L1091.57,473.18 L1089.55,474.51 L1087.48,475.83 L1085.36,477.15 L1083.20,478.47 L1081.00,479.80 L1078.76,481.12 L1076.50,482.44 L1074.21,483.77 L1071.91,485.09 L1069.59,486.41 L1067.26,487.74 L1064.92,489.06 L1062.58,490.38 L1060.25,491.70 L1057.92,493.03 L1055.60,494.35 L1053.30,495.67 L1051.01,497.00 L1048.75,498.32 L1046.51,499.64 L1044.30,500.97 L1042.12,502.29 L1039.97,503.61 L1037.86,504.93 L1035.79,506.26 L1033.75,507.58 L1031.76,508.90 L1029.82,510.23 L1027.92,511.55 L1026.06,512.87 L1024.26,514.20 L1022.50,515.52 L1020.80,516.84 L1019.14,518.16 L1017.53,519.49 L1015.98,520.81 L1014.48,522.13 L1013.03,523.46 L1011.63,524.78 L1010.28,526.10 L1008.99,527.43 L1007.74,528.75 L1006.54,530.07 L1005.40,531.39 L1004.30,532.72 L1003.25,534.04 L1002.24,535.36 L1001.28,536.69 L1000.37,538.01 L999.50,539.33 L998.67,540.66 L997.88,541.98 L997.13,543.30 L996.42,544.62 L995.75,545.95 L995.12,547.27 L994.52,548.59 L993.95,549.92 L993.41,551.24 L992.91,552.56 L992.43,553.89 L991.99,555.21 L991.57,556.53 L991.18,557.86 L990.81,559.18 L990.46,560.50 L990.14,561.82 L989.84,563.15 L989.56,564.47 L989.29,565.79 L989.05,567.12 L988.82,568.44 L988.61,569.76 L988.41,571.09 L988.23,572.41 L988.06,573.73 L987.91,575.05 L987.76,576.38 L987.63,577.70" fill="none" stroke="#333" stroke-width="1.2"/>
<path d="M986.90,833.40 L1004.33,833.40 L1004.92,834.13 L1005.52,834.87 L1006.14,835.61 L1006.77,836.34 L1007.42,837.07 L1008.08,837.81 L1008.76,838.54 L1009.46,839.28 L1010.17,840.01 L1010.89,840.75 L1011.63,841.49 L1012.39,842.22 L1013.16,842.95 L1013.95,843.69 L1014.75,844.42 L1015.58,845.16 L1016.41,845.89 L1017.26,846.63 L1018.13,847.37 L1019.02,848.10 L1019.92,848.84 L1020.83,849.57 L1021.76,850.30 L1022.71,851.04 L1023.67,851.77 L1024.65,852.51 L1025.65,853.25 L1026.65,853.98 L1027.68,854.72 L1028.72,855.45 L1029.77,856.18 L1030.83,856.92 L1031.92,857.65 L1033.01,858.39 L1034.12,859.12 L1035.24,859.86 L1036.37,860.60 L1037.52,861.33 L1038.68,862.06 L1039.85,862.80 L1041.03,863.53 L1042.23,864.27 L1043.43,865.00 L1044.65,865.74 L1045.87,866.48 L1047.10,867.21 L1048.34,867.95 L1049.59,868.68 L1050.85,869.41 L1052.12,870.15 L1053.39,870.88 L1054.66,871.62 L1055.95,872.36 L1057.23,873.09 L1058.53,873.83 L1059.82,874.56 L1061.12,875.29 L1062.42,876.03 L1063.72,876.76 L1065.02,877.50 L986.90,877.50Z" fill="#ccddfc"/>
<path d="M986.90,877.50 L1065.02,877.50 L1067.62,878.97 L1070.22,880.44 L1072.81,881.91 L1075.37,883.38 L1077.92,884.85 L1080.43,886.32 L1082.90,887.79 L1085.33,889.26 L1087.71,890.73 L1090.03,892.20 L1092.29,893.67 L1094.48,895.14 L1096.60,896.61 L1098.62,898.08 L1100.57,899.55 L1102.41,901.02 L1104.16,902.49 L1105.80,903.96 L1107.33,905.43 L1108.74,906.90 L1110.03,908.37 L1111.20,909.84 L1112.24,911.31 L1113.15,912.78 L1113.92,914.25 L1114.56,915.72 L1115.06,917.19 L1115.41,918.66 L1115.63,920.13 L1115.70,921.60 L1115.63,923.07 L1115.41,924.54 L1115.06,926.01 L1114.56,927.48 L1113.92,928.95 L1113.15,930.42 L1112.24,931.89 L1111.20,933.36 L1110.03,934.83 L1108.74,936.30 L1107.33,937.77 L1105.80,939.24 L1104.16,940.71 L1102.41,942.18 L1100.57,943.65 L1098.62,945.12 L1096.60,946.59 L1094.48,948.06 L1092.29,949.53 L1090.03,951.00 L1087.71,952.47 L1085.33,953.94 L1082.90,955.41 L1080.43,956.88 L1077.92,958.35 L1075.37,959.82 L1072.81,961.29 L1070.22,962.76 L1067.62,964.23 L1065.02,965.70 L986.90,965.70Z" fill="#aec8fa"/>
<path d="M986.90,965.70 L1065.02,965.70 L1063.72,966.44 L1062.42,967.17 L1061.12,967.91 L1059.82,968.64 L1058.53,969.38 L1057.23,970.11 L1055.95,970.85 L1054.66,971.58 L1053.39,972.32 L1052.12,973.05 L1050.85,973.79 L1049.59,974.52 L1048.34,975.25 L1047.10,975.99 L1045.87,976.73 L1044.65,977.46 L1043.43,978.20 L1042.23,978.93 L1041.03,979.67 L1039.85,980.40 L1038.68,981.14 L1037.52,981.87 L1036.37,982.61 L1035.24,983.34 L1034.12,984.08 L1033.01,984.81 L1031.92,985.55 L1030.83,986.28 L1029.77,987.02 L1028.72,987.75 L1027.68,988.49 L1026.65,989.22 L1025.65,989.96 L1024.65,990.69 L1023.67,991.43 L1022.71,992.16 L1021.76,992.90 L1020.83,993.63 L1019.92,994.37 L1019.02,995.10 L1018.13,995.84 L1017.26,996.57 L1016.41,997.31 L1015.58,998.04 L1014.75,998.78 L1013.95,999.51 L1013.16,1000.25 L1012.39,1000.98 L1011.63,1001.72 L1010.89,1002.45 L1010.17,1003.19 L1009.46,1003.92 L1008.76,1004.66 L1008.08,1005.39 L1007.42,1006.13 L1006.77,1006.86 L1006.14,1007.60 L1005.52,1008.33 L1004.92,1009.07 L1004.33,1009.80 L986.90,1009.80Z" fill="#ccddfc"/>
<line x1="986.90" x2="1004.33" y1="833.40" y2="833.40" stroke="#9fb3de" stroke-width="1.2"/>
<line x1="986.90" x2="1065.02" y1="877.50" y2="877.50" stroke="#4a5f93" stroke-width="1.3"/>
<line x1="986.90" x2="1115.70" y1="921.60" y2="921.60" stroke="#4a5f93" stroke-width="1.3"/>
<line x1="986.90" x2="1065.02" y1="965.70" y2="965.70" stroke="#4a5f93" stroke-width="1.3"/>
<line x1="986.90" x2="1004.33" y1="1009.80" y2="1009.80" stroke="#9fb3de" stroke-width="1.2"/>
<path d="M988.33,789.30 L988.46,790.62 L988.61,791.95 L988.77,793.27 L988.94,794.59 L989.12,795.91 L989.32,797.24 L989.53,798.56 L989.76,799.88 L990.00,801.21 L990.26,802.53 L990.55,803.85 L990.85,805.18 L991.17,806.50 L991.52,807.82 L991.89,809.14 L992.28,810.47 L992.70,811.79 L993.15,813.11 L993.62,814.44 L994.13,815.76 L994.67,817.08 L995.23,818.41 L995.84,819.73 L996.47,821.05 L997.15,822.38 L997.86,823.70 L998.61,825.02 L999.40,826.34 L1000.23,827.67 L1001.10,828.99 L1002.02,830.31 L1002.98,831.64 L1003.99,832.96 L1005.04,834.28 L1006.14,835.60 L1007.29,836.93 L1008.49,838.25 L1009.74,839.57 L1011.04,840.90 L1012.39,842.22 L1013.79,843.54 L1015.25,844.87 L1016.75,846.19 L1018.31,847.51 L1019.92,848.83 L1021.58,850.16 L1023.29,851.48 L1025.05,852.80 L1026.86,854.13 L1028.72,855.45 L1030.62,856.77 L1032.57,858.10 L1034.57,859.42 L1036.60,860.74 L1038.68,862.06 L1040.80,863.39 L1042.95,864.71 L1045.13,866.03 L1047.35,867.36 L1049.59,868.68 L1051.86,870.00 L1054.15,871.33 L1056.46,872.65 L1058.78,873.97 L1061.12,875.29 L1063.46,876.62 L1065.80,877.94 L1068.14,879.26 L1070.48,880.59 L1072.81,881.91 L1075.12,883.23 L1077.41,884.56 L1079.68,885.88 L1081.92,887.20 L1084.12,888.52 L1086.29,889.85 L1088.42,891.17 L1090.49,892.49 L1092.52,893.82 L1094.48,895.14 L1096.39,896.46 L1098.23,897.79 L1099.99,899.11 L1101.69,900.43 L1103.30,901.75 L1104.83,903.08 L1106.27,904.40 L1107.62,905.72 L1108.87,907.05 L1110.03,908.37 L1111.09,909.69 L1112.04,911.02 L1112.89,912.34 L1113.63,913.66 L1114.26,914.99 L1114.78,916.31 L1115.18,917.63 L1115.47,918.95 L1115.64,920.28 L1115.70,921.60 L1115.64,922.92 L1115.47,924.25 L1115.18,925.57 L1114.78,926.89 L1114.26,928.21 L1113.63,929.54 L1112.89,930.86 L1112.04,932.18 L1111.09,933.51 L1110.03,934.83 L1108.87,936.15 L1107.62,937.48 L1106.27,938.80 L1104.83,940.12 L1103.30,941.44 L1101.69,942.77 L1099.99,944.09 L1098.23,945.41 L1096.39,946.74 L1094.48,948.06 L1092.52,949.38 L1090.49,950.71 L1088.42,952.03 L1086.29,953.35 L1084.12,954.67 L1081.92,956.00 L1079.68,957.32 L1077.41,958.64 L1075.12,959.97 L1072.81,961.29 L1070.48,962.61 L1068.14,963.94 L1065.80,965.26 L1063.46,966.58 L1061.12,967.90 L1058.78,969.23 L1056.46,970.55 L1054.15,971.87 L1051.86,973.20 L1049.59,974.52 L1047.35,975.84 L1045.13,977.17 L1042.95,978.49 L1040.80,979.81 L1038.68,981.13 L1036.60,982.46 L1034.57,983.78 L1032.57,985.10 L1030.62,986.43 L1028.72,987.75 L1026.86,989.07 L1025.05,990.40 L1023.29,991.72 L1021.58,993.04 L1019.92,994.37 L1018.31,995.69 L1016.75,997.01 L1015.25,998.33 L1013.79,999.66 L1012.39,1000.98 L1011.04,1002.30 L1009.74,1003.63 L1008.49,1004.95 L1007.29,1006.27 L1006.14,1007.60 L1005.04,1008.92 L1003.99,1010.24 L1002.98,1011.56 L1002.02,1012.89 L1001.10,1014.21 L1000.23,1015.53 L999.40,1016.86 L998.61,1018.18 L997.86,1019.50 L997.15,1020.83 L996.47,1022.15 L995.84,1023.47 L995.23,1024.79 L994.67,1026.12 L994.13,1027.44 L993.62,1028.76 L993.15,1030.09 L992.70,1031.41 L992.28,1032.73 L991.89,1034.06 L991.52,1035.38 L991.17,1036.70 L990.85,1038.02 L990.55,1039.35 L990.26,1040.67 L990.00,1041.99 L989.76,1043.32 L989.53,1044.64 L989.32,1045.96 L989.12,1047.28 L988.94,1048.61 L988.77,1049.93 L988.61,1051.25 L988.46,1052.58 L988.33,1053.90" fill="none" stroke="#333" stroke-width="1.2"/>
<rect x="1238.20" y="438.55" width="95.80" height="54.75" fill="#72dc72"/>
<rect x="1238.20" y="383.80" width="95.80" height="54.75" fill="#fffd80"/>
<rect x="1238.20" y="329.05" width="95.80" height="54.75" fill="#ff9696"/>
<line x1="1238.20" x2="1238.20" y1="128.30" y2="493.30" stroke="#555" stroke-width="1.6"/>
<line x1="1233.40" x2="1238.20" y1="493.30" y2="493.30" stroke="#444" stroke-width="1.3"/>
<text x="1227.70" y="498.48" font-family='"Liberation Sans", sans-serif' font-size="14.4" fill="#222" stroke="#222" stroke-width="0.15" text-anchor="end">0</text>
<line x1="1233.40" x2="1238.20" y1="420.30" y2="420.30" stroke="#444" stroke-width="1.3"/>
<text x="1227.70" y="425.48" font-family='"Liberation Sans", sans-serif' font-size="14.4" fill="#222" stroke="#222" stroke-width="0.15" text-anchor="end">1</text>
<line x1="1233.40" x2="1238.20" y1="347.30" y2="347.30" stroke="#444" stroke-width="1.3"/>
<text x="1227.70" y="352.48" font-family='"Liberation Sans", sans-serif' font-size="14.4" fill="#222" stroke="#222" stroke-width="0.15" text-anchor="end">2</text>
<line x1="1233.40" x2="1238.20" y1="274.30" y2="274.30" stroke="#444" stroke-width="1.3"/>
<text x="1227.70" y="279.48" font-family='"Liberation Sans", sans-serif' font-size="14.4" fill="#222" stroke="#222" stroke-width="0.15" text-anchor="end">3</text>
<line x1="1233.40" x2="1238.20" y1="201.30" y2="201.30" stroke="#444" stroke-width="1.3"/>
<text x="1227.70" y="206.48" font-family='"Liberation Sans", sans-serif' font-size="14.4" fill="#222" stroke="#222" stroke-width="0.15" text-anchor="end">4</text>
<line x1="1233.40" x2="1238.20" y1="128.30" y2="128.30" stroke="#444" stroke-width="1.3"/>
<text x="1227.70" y="133.48" font-family='"Liberation Sans", sans-serif' font-size="14.4" fill="#222" stroke="#222" stroke-width="0.15" text-anchor="end">5</text>
<line x1="1238.20" x2="1344.50" y1="493.30" y2="493.30" stroke="#555" stroke-width="1.6"/>
<line x1="1334.00" x2="1334.00" y1="493.30" y2="499.30" stroke="#555" stroke-width="1.2"/>
<line x1="1238.20" x2="1344.50" y1="422.49" y2="422.49" stroke="#0000f0" stroke-width="4"/>
<text x="1348.30" y="430.49" font-family='"Liberation Sans", sans-serif' font-size="14.0" fill="#2a3ad8" textLength="28.00" lengthAdjust="spacingAndGlyphs">0.97</text>
<text transform="translate(1210.80,311.70) rotate(-90)" x="0" y="0" font-family='"Liberation Sans", sans-serif' font-size="13.5" fill="#222" text-anchor="middle" textLength="112.00" lengthAdjust="spacingAndGlyphs">Biomarker value</text>
<text x="1216.40" y="552.00" font-family='"Liberation Serif", serif' font-size="25" fill="#1a1a1a" stroke="#1a1a1a" stroke-width="0.4" textLength="157.60" lengthAdjust="spacingAndGlyphs">Pre-Treatment</text>
<rect x="1478.40" y="352.88" width="95.40" height="39.22" fill="#72dc72"/>
<rect x="1478.40" y="313.65" width="95.40" height="39.22" fill="#fffd80"/>
<rect x="1478.40" y="274.43" width="95.40" height="39.22" fill="#ff9696"/>
<line x1="1478.40" x2="1478.40" y1="130.60" y2="496.70" stroke="#555" stroke-width="1.6"/>
<line x1="1473.60" x2="1478.40" y1="496.70" y2="496.70" stroke="#444" stroke-width="1.3"/>
<text x="1449.77" y="501.81" font-family='"Liberation Sans", sans-serif' font-size="14.2" fill="#222" stroke="#222" stroke-width="0.15" textLength="18.03" lengthAdjust="spacingAndGlyphs">−2</text>
<line x1="1473.60" x2="1478.40" y1="444.40" y2="444.40" stroke="#444" stroke-width="1.3"/>
<text x="1449.77" y="449.51" font-family='"Liberation Sans", sans-serif' font-size="14.2" fill="#222" stroke="#222" stroke-width="0.15" textLength="18.03" lengthAdjust="spacingAndGlyphs">−1</text>
<line x1="1473.60" x2="1478.40" y1="392.10" y2="392.10" stroke="#444" stroke-width="1.3"/>
<text x="1467.80" y="397.21" font-family='"Liberation Sans", sans-serif' font-size="14.2" fill="#222" stroke="#222" stroke-width="0.15" text-anchor="end">0</text>
<line x1="1473.60" x2="1478.40" y1="339.80" y2="339.80" stroke="#444" stroke-width="1.3"/>
<text x="1467.80" y="344.91" font-family='"Liberation Sans", sans-serif' font-size="14.2" fill="#222" stroke="#222" stroke-width="0.15" text-anchor="end">1</text>
<line x1="1473.60" x2="1478.40" y1="287.50" y2="287.50" stroke="#444" stroke-width="1.3"/>
<text x="1467.80" y="292.61" font-family='"Liberation Sans", sans-serif' font-size="14.2" fill="#222" stroke="#222" stroke-width="0.15" text-anchor="end">2</text>
<line x1="1473.60" x2="1478.40" y1="235.20" y2="235.20" stroke="#444" stroke-width="1.3"/>
<text x="1467.80" y="240.31" font-family='"Liberation Sans", sans-serif' font-size="14.2" fill="#222" stroke="#222" stroke-width="0.15" text-anchor="end">3</text>
<line x1="1473.60" x2="1478.40" y1="182.90" y2="182.90" stroke="#444" stroke-width="1.3"/>
<text x="1467.80" y="188.01" font-family='"Liberation Sans", sans-serif' font-size="14.2" fill="#222" stroke="#222" stroke-width="0.15" text-anchor="end">4</text>
<line x1="1473.60" x2="1478.40" y1="130.60" y2="130.60" stroke="#444" stroke-width="1.3"/>
<text x="1467.80" y="135.71" font-family='"Liberation Sans", sans-serif' font-size="14.2" fill="#222" stroke="#222" stroke-width="0.15" text-anchor="end">5</text>
<line x1="1478.40" x2="1585.20" y1="392.10" y2="392.10" stroke="#000" stroke-width="2.3"/>
<line x1="1478.40" x2="1585.20" y1="398.38" y2="398.38" stroke="#0000f0" stroke-width="4"/>
<text x="1586.80" y="404.38" font-family='"Liberation Sans", sans-serif' font-size="12.8" fill="#2a3ad8" textLength="32.20" lengthAdjust="spacingAndGlyphs">-0.12</text>
<text transform="translate(1439.20,315.00) rotate(-90)" x="0" y="0" font-family='"Liberation Sans", sans-serif' font-size="12.3" fill="#222" text-anchor="middle" textLength="111.00" lengthAdjust="spacingAndGlyphs">Biomarker value</text>
<text x="1451.40" y="552.00" font-family='"Liberation Serif", serif' font-size="25" fill="#1a1a1a" stroke="#1a1a1a" stroke-width="0.4" textLength="168.70" lengthAdjust="spacingAndGlyphs">Post-Treatment</text>
<rect x="1243.80" y="977.10" width="87.20" height="51.30" fill="#72dc72"/>
<rect x="1243.80" y="925.80" width="87.20" height="51.30" fill="#fffd80"/>
<rect x="1243.80" y="874.50" width="87.20" height="51.30" fill="#ff9696"/>
<line x1="1243.80" x2="1243.80" y1="686.40" y2="1028.40" stroke="#555" stroke-width="1.6"/>
<line x1="1239.00" x2="1243.80" y1="1028.40" y2="1028.40" stroke="#444" stroke-width="1.3"/>
<text x="1234.20" y="1033.44" font-family='"Liberation Sans", sans-serif' font-size="14.0" fill="#222" stroke="#222" stroke-width="0.15" text-anchor="end">0</text>
<line x1="1239.00" x2="1243.80" y1="960.00" y2="960.00" stroke="#444" stroke-width="1.3"/>
<text x="1234.20" y="965.04" font-family='"Liberation Sans", sans-serif' font-size="14.0" fill="#222" stroke="#222" stroke-width="0.15" text-anchor="end">1</text>
<line x1="1239.00" x2="1243.80" y1="891.60" y2="891.60" stroke="#444" stroke-width="1.3"/>
<text x="1234.20" y="896.64" font-family='"Liberation Sans", sans-serif' font-size="14.0" fill="#222" stroke="#222" stroke-width="0.15" text-anchor="end">2</text>
<line x1="1239.00" x2="1243.80" y1="823.20" y2="823.20" stroke="#444" stroke-width="1.3"/>
<text x="1234.20" y="828.24" font-family='"Liberation Sans", sans-serif' font-size="14.0" fill="#222" stroke="#222" stroke-width="0.15" text-anchor="end">3</text>
<line x1="1239.00" x2="1243.80" y1="754.80" y2="754.80" stroke="#444" stroke-width="1.3"/>
<text x="1234.20" y="759.84" font-family='"Liberation Sans", sans-serif' font-size="14.0" fill="#222" stroke="#222" stroke-width="0.15" text-anchor="end">4</text>
<line x1="1239.00" x2="1243.80" y1="686.40" y2="686.40" stroke="#444" stroke-width="1.3"/>
<text x="1234.20" y="691.44" font-family='"Liberation Sans", sans-serif' font-size="14.0" fill="#222" stroke="#222" stroke-width="0.15" text-anchor="end">5</text>
<line x1="1243.80" x2="1342.00" y1="1028.40" y2="1028.40" stroke="#555" stroke-width="1.6"/>
<line x1="1331.00" x2="1331.00" y1="1028.40" y2="1034.40" stroke="#555" stroke-width="1.2"/>
<line x1="1243.80" x2="1342.00" y1="907.33" y2="907.33" stroke="#1010d0" stroke-width="4"/>
<text x="1345.20" y="914.93" font-family='"Liberation Sans", sans-serif' font-size="13.3" fill="#2a3ad8" textLength="25.20" lengthAdjust="spacingAndGlyphs">1.77</text>
<text transform="translate(1218.50,858.30) rotate(-90)" x="0" y="0" font-family='"Liberation Sans", sans-serif' font-size="12.8" fill="#222" text-anchor="middle" textLength="105.00" lengthAdjust="spacingAndGlyphs">Biomarker value</text>
<text x="1211.30" y="1089.00" font-family='"Liberation Serif", serif' font-size="23.8" fill="#1a1a1a" stroke="#1a1a1a" stroke-width="0.4" textLength="146.70" lengthAdjust="spacingAndGlyphs">Pre-Treatment</text>
<rect x="1468.00" y="896.70" width="87.60" height="36.90" fill="#72dc72"/>
<rect x="1468.00" y="859.80" width="87.60" height="36.90" fill="#fffd80"/>
<rect x="1468.00" y="822.90" width="87.60" height="36.90" fill="#ff9696"/>
<line x1="1468.00" x2="1468.00" y1="687.60" y2="1032.00" stroke="#555" stroke-width="1.6"/>
<line x1="1463.20" x2="1468.00" y1="1032.00" y2="1032.00" stroke="#444" stroke-width="1.3"/>
<text x="1441.18" y="1036.82" font-family='"Liberation Sans", sans-serif' font-size="13.4" fill="#222" stroke="#222" stroke-width="0.15" textLength="17.02" lengthAdjust="spacingAndGlyphs">−2</text>
<line x1="1463.20" x2="1468.00" y1="982.80" y2="982.80" stroke="#444" stroke-width="1.3"/>
<text x="1441.18" y="987.62" font-family='"Liberation Sans", sans-serif' font-size="13.4" fill="#222" stroke="#222" stroke-width="0.15" textLength="17.02" lengthAdjust="spacingAndGlyphs">−1</text>
<line x1="1463.20" x2="1468.00" y1="933.60" y2="933.60" stroke="#444" stroke-width="1.3"/>
<text x="1458.20" y="938.42" font-family='"Liberation Sans", sans-serif' font-size="13.4" fill="#222" stroke="#222" stroke-width="0.15" text-anchor="end">0</text>
<line x1="1463.20" x2="1468.00" y1="884.40" y2="884.40" stroke="#444" stroke-width="1.3"/>
<text x="1458.20" y="889.22" font-family='"Liberation Sans", sans-serif' font-size="13.4" fill="#222" stroke="#222" stroke-width="0.15" text-anchor="end">1</text>
<line x1="1463.20" x2="1468.00" y1="835.20" y2="835.20" stroke="#444" stroke-width="1.3"/>
<text x="1458.20" y="840.02" font-family='"Liberation Sans", sans-serif' font-size="13.4" fill="#222" stroke="#222" stroke-width="0.15" text-anchor="end">2</text>
<line x1="1463.20" x2="1468.00" y1="786.00" y2="786.00" stroke="#444" stroke-width="1.3"/>
<text x="1458.20" y="790.82" font-family='"Liberation Sans", sans-serif' font-size="13.4" fill="#222" stroke="#222" stroke-width="0.15" text-anchor="end">3</text>
<line x1="1463.20" x2="1468.00" y1="736.80" y2="736.80" stroke="#444" stroke-width="1.3"/>
<text x="1458.20" y="741.62" font-family='"Liberation Sans", sans-serif' font-size="13.4" fill="#222" stroke="#222" stroke-width="0.15" text-anchor="end">4</text>
<line x1="1463.20" x2="1468.00" y1="687.60" y2="687.60" stroke="#444" stroke-width="1.3"/>
<text x="1458.20" y="692.42" font-family='"Liberation Sans", sans-serif' font-size="13.4" fill="#222" stroke="#222" stroke-width="0.15" text-anchor="end">5</text>
<line x1="1468.00" x2="1566.20" y1="933.60" y2="933.60" stroke="#000" stroke-width="2.3"/>
<line x1="1468.00" x2="1566.20" y1="935.08" y2="935.08" stroke="#1a1ab0" stroke-width="4"/>
<line x1="1468.00" x2="1566.20" y1="933.60" y2="933.60" stroke="#000" stroke-width="3.3"/>
<text x="1567.60" y="940.48" font-family='"Liberation Sans", sans-serif' font-size="12.5" fill="#2a3ad8" textLength="29.90" lengthAdjust="spacingAndGlyphs">-0.03</text>
<text transform="translate(1433.80,860.00) rotate(-90)" x="0" y="0" font-family='"Liberation Sans", sans-serif' font-size="12.0" fill="#222" text-anchor="middle" textLength="105.00" lengthAdjust="spacingAndGlyphs">Biomarker value</text>
<text x="1430.00" y="1089.00" font-family='"Liberation Serif", serif' font-size="23.8" fill="#1a1a1a" stroke="#1a1a1a" stroke-width="0.4" textLength="156.90" lengthAdjust="spacingAndGlyphs">Post-Treatment</text>
<rect x="1192" y="829" width="6" height="90" fill="#eeeeee" opacity="0.6"/>
</svg>
</body></html>
